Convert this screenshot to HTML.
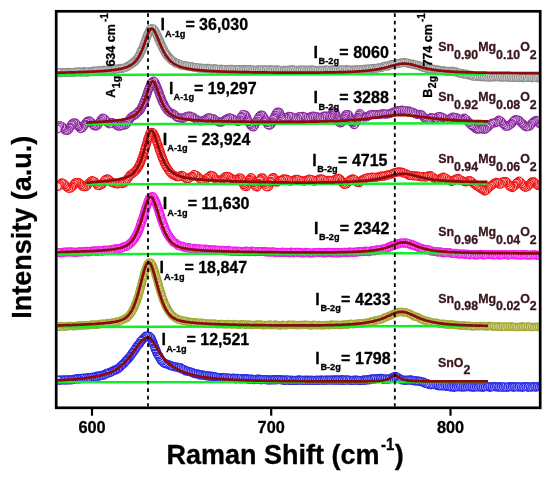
<!DOCTYPE html><html><head><meta charset="utf-8"><style>html,body{margin:0;padding:0;background:#fff;}svg{display:block;} text{stroke:#000;} text.s{fill:#38161b;stroke:#38161b;}</style></head><body><svg width="550" height="479" viewBox="0 0 550 479">
<defs><clipPath id="c"><rect x="57.4" y="12.5" width="481.6" height="394.1"/></clipPath></defs>
<g clip-path="url(#c)">
<g fill="#e6e6e8" stroke="#8e8e8e" stroke-width="1.2"><circle cx="539.6" cy="77.8" r="3.9"/><circle cx="537.8" cy="77.9" r="3.9"/><circle cx="536.0" cy="77.6" r="3.9"/><circle cx="534.2" cy="77.5" r="3.9"/><circle cx="532.4" cy="77.9" r="3.9"/><circle cx="530.6" cy="77.6" r="3.9"/><circle cx="528.8" cy="77.5" r="3.9"/><circle cx="527.0" cy="77.2" r="3.9"/><circle cx="525.2" cy="77.6" r="3.9"/><circle cx="523.4" cy="77.8" r="3.9"/><circle cx="521.6" cy="77.1" r="3.9"/><circle cx="519.8" cy="77.7" r="3.9"/><circle cx="518.0" cy="77.6" r="3.9"/><circle cx="516.2" cy="77.2" r="3.9"/><circle cx="514.4" cy="77.5" r="3.9"/><circle cx="512.6" cy="77.4" r="3.9"/><circle cx="510.8" cy="77.3" r="3.9"/><circle cx="509.0" cy="77.4" r="3.9"/><circle cx="507.2" cy="77.1" r="3.9"/><circle cx="505.4" cy="77.0" r="3.9"/><circle cx="503.6" cy="76.9" r="3.9"/><circle cx="501.8" cy="77.3" r="3.9"/><circle cx="500.0" cy="77.1" r="3.9"/><circle cx="498.2" cy="76.7" r="3.9"/><circle cx="496.4" cy="76.8" r="3.9"/><circle cx="494.6" cy="77.0" r="3.9"/><circle cx="492.8" cy="76.7" r="3.9"/><circle cx="491.0" cy="77.1" r="3.9"/><circle cx="489.2" cy="77.2" r="3.9"/><circle cx="487.4" cy="77.1" r="3.9"/><circle cx="485.6" cy="76.9" r="3.9"/><circle cx="483.8" cy="76.9" r="3.9"/><circle cx="482.0" cy="76.7" r="3.9"/><circle cx="480.2" cy="76.8" r="3.9"/><circle cx="478.4" cy="76.2" r="3.9"/><circle cx="476.6" cy="76.3" r="3.9"/><circle cx="474.8" cy="76.2" r="3.9"/><circle cx="473.0" cy="76.3" r="3.9"/><circle cx="471.2" cy="75.3" r="3.9"/><circle cx="469.4" cy="75.2" r="3.9"/><circle cx="467.6" cy="74.5" r="3.9"/><circle cx="465.8" cy="74.0" r="3.9"/><circle cx="464.0" cy="74.2" r="3.9"/><circle cx="462.2" cy="73.4" r="3.9"/><circle cx="460.4" cy="73.2" r="3.9"/><circle cx="458.6" cy="72.9" r="3.9"/><circle cx="456.8" cy="71.9" r="3.9"/><circle cx="455.0" cy="72.1" r="3.9"/><circle cx="453.2" cy="71.3" r="3.9"/><circle cx="451.4" cy="71.2" r="3.9"/><circle cx="449.6" cy="71.3" r="3.9"/><circle cx="447.8" cy="71.6" r="3.9"/><circle cx="446.0" cy="71.3" r="3.9"/><circle cx="444.2" cy="70.7" r="3.9"/><circle cx="442.4" cy="70.7" r="3.9"/><circle cx="440.6" cy="70.5" r="3.9"/><circle cx="438.8" cy="70.1" r="3.9"/><circle cx="437.0" cy="69.7" r="3.9"/><circle cx="435.2" cy="69.5" r="3.9"/><circle cx="433.4" cy="69.3" r="3.9"/><circle cx="431.6" cy="68.8" r="3.9"/><circle cx="429.8" cy="68.5" r="3.9"/><circle cx="428.0" cy="68.7" r="3.9"/><circle cx="426.2" cy="68.1" r="3.9"/><circle cx="424.4" cy="67.7" r="3.9"/><circle cx="422.6" cy="67.3" r="3.9"/><circle cx="420.8" cy="66.5" r="3.9"/><circle cx="419.0" cy="65.7" r="3.9"/><circle cx="417.2" cy="65.3" r="3.9"/><circle cx="415.4" cy="64.9" r="3.9"/><circle cx="413.6" cy="64.2" r="3.9"/><circle cx="411.8" cy="64.1" r="3.9"/><circle cx="410.0" cy="63.7" r="3.9"/><circle cx="408.2" cy="63.3" r="3.9"/><circle cx="406.4" cy="62.8" r="3.9"/><circle cx="404.6" cy="62.4" r="3.9"/><circle cx="402.8" cy="62.8" r="3.9"/><circle cx="401.0" cy="62.7" r="3.9"/><circle cx="399.2" cy="63.4" r="3.9"/><circle cx="397.4" cy="63.4" r="3.9"/><circle cx="395.6" cy="63.9" r="3.9"/><circle cx="393.8" cy="64.6" r="3.9"/><circle cx="392.0" cy="64.5" r="3.9"/><circle cx="390.2" cy="65.0" r="3.9"/><circle cx="388.4" cy="65.9" r="3.9"/><circle cx="386.6" cy="66.0" r="3.9"/><circle cx="384.8" cy="66.2" r="3.9"/><circle cx="383.0" cy="66.8" r="3.9"/><circle cx="381.2" cy="67.7" r="3.9"/><circle cx="379.4" cy="67.8" r="3.9"/><circle cx="377.6" cy="68.0" r="3.9"/><circle cx="375.8" cy="68.4" r="3.9"/><circle cx="374.0" cy="68.3" r="3.9"/><circle cx="372.2" cy="68.7" r="3.9"/><circle cx="370.4" cy="69.0" r="3.9"/><circle cx="368.6" cy="68.7" r="3.9"/><circle cx="366.8" cy="69.5" r="3.9"/><circle cx="365.0" cy="69.1" r="3.9"/><circle cx="363.2" cy="69.8" r="3.9"/><circle cx="361.4" cy="69.5" r="3.9"/><circle cx="359.6" cy="69.7" r="3.9"/><circle cx="357.8" cy="69.9" r="3.9"/><circle cx="356.0" cy="69.7" r="3.9"/><circle cx="354.2" cy="70.0" r="3.9"/><circle cx="352.4" cy="70.1" r="3.9"/><circle cx="350.6" cy="70.2" r="3.9"/><circle cx="348.8" cy="70.0" r="3.9"/><circle cx="347.0" cy="69.5" r="3.9"/><circle cx="345.2" cy="70.0" r="3.9"/><circle cx="343.4" cy="69.9" r="3.9"/><circle cx="341.6" cy="69.8" r="3.9"/><circle cx="339.8" cy="69.9" r="3.9"/><circle cx="338.0" cy="69.9" r="3.9"/><circle cx="336.2" cy="70.1" r="3.9"/><circle cx="334.4" cy="70.0" r="3.9"/><circle cx="332.6" cy="69.8" r="3.9"/><circle cx="330.8" cy="70.2" r="3.9"/><circle cx="329.0" cy="70.2" r="3.9"/><circle cx="327.2" cy="70.1" r="3.9"/><circle cx="325.4" cy="69.8" r="3.9"/><circle cx="323.6" cy="70.3" r="3.9"/><circle cx="321.8" cy="70.2" r="3.9"/><circle cx="320.0" cy="70.2" r="3.9"/><circle cx="318.2" cy="70.2" r="3.9"/><circle cx="316.4" cy="70.4" r="3.9"/><circle cx="314.6" cy="70.3" r="3.9"/><circle cx="312.8" cy="70.1" r="3.9"/><circle cx="311.0" cy="69.8" r="3.9"/><circle cx="309.2" cy="70.5" r="3.9"/><circle cx="307.4" cy="70.0" r="3.9"/><circle cx="305.6" cy="70.3" r="3.9"/><circle cx="303.8" cy="70.1" r="3.9"/><circle cx="302.0" cy="70.3" r="3.9"/><circle cx="300.2" cy="69.8" r="3.9"/><circle cx="298.4" cy="70.5" r="3.9"/><circle cx="296.6" cy="70.3" r="3.9"/><circle cx="294.8" cy="70.5" r="3.9"/><circle cx="293.0" cy="69.8" r="3.9"/><circle cx="291.2" cy="69.8" r="3.9"/><circle cx="289.4" cy="69.9" r="3.9"/><circle cx="287.6" cy="70.2" r="3.9"/><circle cx="285.8" cy="70.3" r="3.9"/><circle cx="284.0" cy="70.3" r="3.9"/><circle cx="282.2" cy="70.5" r="3.9"/><circle cx="280.4" cy="70.5" r="3.9"/><circle cx="278.6" cy="70.0" r="3.9"/><circle cx="276.8" cy="69.8" r="3.9"/><circle cx="275.0" cy="70.2" r="3.9"/><circle cx="273.2" cy="70.0" r="3.9"/><circle cx="271.4" cy="69.8" r="3.9"/><circle cx="269.6" cy="69.7" r="3.9"/><circle cx="267.8" cy="70.0" r="3.9"/><circle cx="266.0" cy="69.9" r="3.9"/><circle cx="264.2" cy="69.7" r="3.9"/><circle cx="262.4" cy="69.8" r="3.9"/><circle cx="260.6" cy="70.3" r="3.9"/><circle cx="258.8" cy="69.8" r="3.9"/><circle cx="257.0" cy="70.1" r="3.9"/><circle cx="255.2" cy="70.2" r="3.9"/><circle cx="253.4" cy="70.0" r="3.9"/><circle cx="251.6" cy="69.7" r="3.9"/><circle cx="249.8" cy="69.5" r="3.9"/><circle cx="248.0" cy="70.0" r="3.9"/><circle cx="246.2" cy="69.5" r="3.9"/><circle cx="244.4" cy="69.6" r="3.9"/><circle cx="242.6" cy="69.8" r="3.9"/><circle cx="240.8" cy="70.0" r="3.9"/><circle cx="239.0" cy="69.5" r="3.9"/><circle cx="237.2" cy="69.8" r="3.9"/><circle cx="235.4" cy="69.4" r="3.9"/><circle cx="233.6" cy="69.9" r="3.9"/><circle cx="231.8" cy="69.2" r="3.9"/><circle cx="230.0" cy="69.2" r="3.9"/><circle cx="228.2" cy="69.4" r="3.9"/><circle cx="226.4" cy="69.5" r="3.9"/><circle cx="224.6" cy="69.6" r="3.9"/><circle cx="222.8" cy="69.6" r="3.9"/><circle cx="221.0" cy="69.0" r="3.9"/><circle cx="219.2" cy="69.5" r="3.9"/><circle cx="217.4" cy="69.3" r="3.9"/><circle cx="215.6" cy="68.7" r="3.9"/><circle cx="213.8" cy="68.7" r="3.9"/><circle cx="212.0" cy="69.1" r="3.9"/><circle cx="210.2" cy="69.0" r="3.9"/><circle cx="208.4" cy="68.3" r="3.9"/><circle cx="206.6" cy="68.2" r="3.9"/><circle cx="204.8" cy="68.7" r="3.9"/><circle cx="203.0" cy="68.3" r="3.9"/><circle cx="201.2" cy="68.1" r="3.9"/><circle cx="199.4" cy="68.3" r="3.9"/><circle cx="197.6" cy="67.7" r="3.9"/><circle cx="195.8" cy="67.4" r="3.9"/><circle cx="194.0" cy="67.4" r="3.9"/><circle cx="192.2" cy="66.8" r="3.9"/><circle cx="190.4" cy="66.8" r="3.9"/><circle cx="188.6" cy="66.2" r="3.9"/><circle cx="186.8" cy="65.9" r="3.9"/><circle cx="185.0" cy="65.8" r="3.9"/><circle cx="183.2" cy="65.4" r="3.9"/><circle cx="181.4" cy="65.3" r="3.9"/><circle cx="179.6" cy="64.3" r="3.9"/><circle cx="177.9" cy="63.6" r="3.9"/><circle cx="176.2" cy="63.5" r="3.9"/><circle cx="174.7" cy="61.9" r="3.9"/><circle cx="173.1" cy="61.4" r="3.9"/><circle cx="171.7" cy="60.4" r="3.9"/><circle cx="170.4" cy="58.8" r="3.9"/><circle cx="169.1" cy="57.4" r="3.9"/><circle cx="167.9" cy="56.5" r="3.9"/><circle cx="166.8" cy="54.6" r="3.9"/><circle cx="165.8" cy="53.5" r="3.9"/><circle cx="164.8" cy="52.0" r="3.9"/><circle cx="163.9" cy="49.9" r="3.9"/><circle cx="163.0" cy="48.2" r="3.9"/><circle cx="162.2" cy="46.7" r="3.9"/><circle cx="161.4" cy="44.8" r="3.9"/><circle cx="160.6" cy="43.5" r="3.9"/><circle cx="159.9" cy="41.5" r="3.9"/><circle cx="159.1" cy="40.2" r="3.9"/><circle cx="158.4" cy="38.2" r="3.9"/><circle cx="157.7" cy="36.7" r="3.9"/><circle cx="157.0" cy="35.2" r="3.9"/><circle cx="156.2" cy="33.3" r="3.9"/><circle cx="155.4" cy="32.3" r="3.9"/><circle cx="154.5" cy="30.3" r="3.9"/><circle cx="153.5" cy="29.0" r="3.9"/><circle cx="151.9" cy="28.4" r="3.9"/><circle cx="150.3" cy="29.2" r="3.9"/><circle cx="149.3" cy="31.3" r="3.9"/><circle cx="148.5" cy="33.1" r="3.9"/><circle cx="147.8" cy="34.3" r="3.9"/><circle cx="147.2" cy="35.8" r="3.9"/><circle cx="146.5" cy="37.7" r="3.9"/><circle cx="145.9" cy="39.8" r="3.9"/><circle cx="145.3" cy="41.4" r="3.9"/><circle cx="144.7" cy="42.6" r="3.9"/><circle cx="144.1" cy="44.5" r="3.9"/><circle cx="143.4" cy="46.7" r="3.9"/><circle cx="142.8" cy="47.9" r="3.9"/><circle cx="142.1" cy="49.8" r="3.9"/><circle cx="141.4" cy="50.8" r="3.9"/><circle cx="140.7" cy="52.2" r="3.9"/><circle cx="139.9" cy="54.4" r="3.9"/><circle cx="139.0" cy="56.0" r="3.9"/><circle cx="138.1" cy="57.1" r="3.9"/><circle cx="137.1" cy="58.9" r="3.9"/><circle cx="136.1" cy="59.9" r="3.9"/><circle cx="134.9" cy="61.5" r="3.9"/><circle cx="133.6" cy="62.2" r="3.9"/><circle cx="132.2" cy="63.5" r="3.9"/><circle cx="130.8" cy="64.4" r="3.9"/><circle cx="129.2" cy="65.4" r="3.9"/><circle cx="127.6" cy="66.5" r="3.9"/><circle cx="125.9" cy="67.2" r="3.9"/><circle cx="124.1" cy="67.9" r="3.9"/><circle cx="122.3" cy="68.4" r="3.9"/><circle cx="120.5" cy="68.2" r="3.9"/><circle cx="118.7" cy="68.7" r="3.9"/><circle cx="116.9" cy="69.1" r="3.9"/><circle cx="115.1" cy="69.2" r="3.9"/><circle cx="113.3" cy="69.5" r="3.9"/><circle cx="111.5" cy="69.6" r="3.9"/><circle cx="109.7" cy="70.1" r="3.9"/><circle cx="107.9" cy="70.0" r="3.9"/><circle cx="106.1" cy="70.2" r="3.9"/><circle cx="104.3" cy="70.1" r="3.9"/><circle cx="102.5" cy="70.4" r="3.9"/><circle cx="100.7" cy="70.6" r="3.9"/><circle cx="98.9" cy="70.6" r="3.9"/><circle cx="97.1" cy="71.2" r="3.9"/><circle cx="95.3" cy="70.9" r="3.9"/><circle cx="93.5" cy="71.1" r="3.9"/><circle cx="91.7" cy="71.6" r="3.9"/><circle cx="89.9" cy="71.8" r="3.9"/><circle cx="88.1" cy="72.1" r="3.9"/><circle cx="86.3" cy="72.2" r="3.9"/><circle cx="84.5" cy="71.5" r="3.9"/><circle cx="82.7" cy="72.1" r="3.9"/><circle cx="80.9" cy="72.3" r="3.9"/><circle cx="79.1" cy="71.8" r="3.9"/><circle cx="77.3" cy="72.0" r="3.9"/><circle cx="75.5" cy="71.9" r="3.9"/><circle cx="73.7" cy="72.5" r="3.9"/><circle cx="71.9" cy="72.4" r="3.9"/><circle cx="70.1" cy="72.4" r="3.9"/><circle cx="68.3" cy="72.2" r="3.9"/><circle cx="66.5" cy="72.5" r="3.9"/><circle cx="64.7" cy="72.5" r="3.9"/><circle cx="62.9" cy="72.5" r="3.9"/><circle cx="61.1" cy="72.9" r="3.9"/><circle cx="59.3" cy="72.7" r="3.9"/><circle cx="57.5" cy="72.6" r="3.9"/></g>
<g fill="#efd8f2" stroke="#8a2a9e" stroke-width="1.25"><circle cx="539.0" cy="123.4" r="3.9"/><circle cx="537.7" cy="122.1" r="3.9"/><circle cx="536.4" cy="120.3" r="3.9"/><circle cx="534.6" cy="121.1" r="3.9"/><circle cx="533.2" cy="122.1" r="3.9"/><circle cx="532.0" cy="123.2" r="3.9"/><circle cx="530.7" cy="124.8" r="3.9"/><circle cx="529.4" cy="126.3" r="3.9"/><circle cx="527.8" cy="126.6" r="3.9"/><circle cx="526.0" cy="126.9" r="3.9"/><circle cx="524.4" cy="125.7" r="3.9"/><circle cx="523.1" cy="124.3" r="3.9"/><circle cx="521.9" cy="123.2" r="3.9"/><circle cx="520.7" cy="122.1" r="3.9"/><circle cx="519.4" cy="120.6" r="3.9"/><circle cx="517.8" cy="120.0" r="3.9"/><circle cx="516.0" cy="119.4" r="3.9"/><circle cx="514.4" cy="120.3" r="3.9"/><circle cx="513.0" cy="121.5" r="3.9"/><circle cx="511.8" cy="123.5" r="3.9"/><circle cx="510.5" cy="124.2" r="3.9"/><circle cx="509.2" cy="125.4" r="3.9"/><circle cx="507.5" cy="126.3" r="3.9"/><circle cx="505.7" cy="126.2" r="3.9"/><circle cx="504.2" cy="124.9" r="3.9"/><circle cx="502.9" cy="123.6" r="3.9"/><circle cx="501.7" cy="122.1" r="3.9"/><circle cx="500.5" cy="121.0" r="3.9"/><circle cx="498.8" cy="120.1" r="3.9"/><circle cx="497.3" cy="121.3" r="3.9"/><circle cx="496.0" cy="122.8" r="3.9"/><circle cx="494.2" cy="123.0" r="3.9"/><circle cx="492.4" cy="123.0" r="3.9"/><circle cx="490.8" cy="124.1" r="3.9"/><circle cx="489.5" cy="125.6" r="3.9"/><circle cx="488.1" cy="127.1" r="3.9"/><circle cx="486.7" cy="127.6" r="3.9"/><circle cx="485.3" cy="129.3" r="3.9"/><circle cx="483.5" cy="129.2" r="3.9"/><circle cx="481.7" cy="128.8" r="3.9"/><circle cx="479.9" cy="129.0" r="3.9"/><circle cx="478.1" cy="129.2" r="3.9"/><circle cx="476.3" cy="129.0" r="3.9"/><circle cx="474.8" cy="127.7" r="3.9"/><circle cx="473.4" cy="126.6" r="3.9"/><circle cx="472.0" cy="125.8" r="3.9"/><circle cx="470.7" cy="124.6" r="3.9"/><circle cx="469.4" cy="122.9" r="3.9"/><circle cx="468.2" cy="122.1" r="3.9"/><circle cx="467.0" cy="120.3" r="3.9"/><circle cx="465.8" cy="119.2" r="3.9"/><circle cx="464.4" cy="117.9" r="3.9"/><circle cx="462.8" cy="119.3" r="3.9"/><circle cx="461.1" cy="119.4" r="3.9"/><circle cx="459.3" cy="119.3" r="3.9"/><circle cx="457.7" cy="118.2" r="3.9"/><circle cx="456.2" cy="117.5" r="3.9"/><circle cx="454.5" cy="117.2" r="3.9"/><circle cx="452.7" cy="116.9" r="3.9"/><circle cx="451.1" cy="118.0" r="3.9"/><circle cx="449.6" cy="118.7" r="3.9"/><circle cx="448.0" cy="119.6" r="3.9"/><circle cx="446.2" cy="119.3" r="3.9"/><circle cx="444.5" cy="118.9" r="3.9"/><circle cx="443.1" cy="117.8" r="3.9"/><circle cx="441.5" cy="117.0" r="3.9"/><circle cx="439.7" cy="116.5" r="3.9"/><circle cx="437.9" cy="116.7" r="3.9"/><circle cx="436.4" cy="118.1" r="3.9"/><circle cx="434.6" cy="118.7" r="3.9"/><circle cx="432.8" cy="117.7" r="3.9"/><circle cx="431.0" cy="117.6" r="3.9"/><circle cx="429.4" cy="118.2" r="3.9"/><circle cx="428.1" cy="119.8" r="3.9"/><circle cx="426.3" cy="119.4" r="3.9"/><circle cx="424.8" cy="118.2" r="3.9"/><circle cx="423.6" cy="117.1" r="3.9"/><circle cx="422.4" cy="115.6" r="3.9"/><circle cx="421.1" cy="114.4" r="3.9"/><circle cx="419.4" cy="114.2" r="3.9"/><circle cx="417.6" cy="114.5" r="3.9"/><circle cx="415.8" cy="114.0" r="3.9"/><circle cx="414.3" cy="113.0" r="3.9"/><circle cx="412.8" cy="112.3" r="3.9"/><circle cx="411.1" cy="111.9" r="3.9"/><circle cx="409.3" cy="110.9" r="3.9"/><circle cx="407.5" cy="111.1" r="3.9"/><circle cx="405.7" cy="110.8" r="3.9"/><circle cx="403.9" cy="110.5" r="3.9"/><circle cx="402.1" cy="110.1" r="3.9"/><circle cx="400.3" cy="110.4" r="3.9"/><circle cx="398.5" cy="110.6" r="3.9"/><circle cx="396.8" cy="110.9" r="3.9"/><circle cx="395.1" cy="111.4" r="3.9"/><circle cx="393.4" cy="112.0" r="3.9"/><circle cx="391.7" cy="112.9" r="3.9"/><circle cx="390.1" cy="113.6" r="3.9"/><circle cx="388.3" cy="113.9" r="3.9"/><circle cx="386.5" cy="114.1" r="3.9"/><circle cx="384.7" cy="114.1" r="3.9"/><circle cx="382.9" cy="113.6" r="3.9"/><circle cx="381.1" cy="114.2" r="3.9"/><circle cx="379.3" cy="114.2" r="3.9"/><circle cx="377.5" cy="114.4" r="3.9"/><circle cx="375.7" cy="114.7" r="3.9"/><circle cx="373.9" cy="114.4" r="3.9"/><circle cx="372.1" cy="114.4" r="3.9"/><circle cx="370.4" cy="114.8" r="3.9"/><circle cx="368.7" cy="115.8" r="3.9"/><circle cx="367.0" cy="116.7" r="3.9"/><circle cx="365.3" cy="117.0" r="3.9"/><circle cx="363.5" cy="117.1" r="3.9"/><circle cx="362.2" cy="116.3" r="3.9"/><circle cx="361.2" cy="114.9" r="3.9"/><circle cx="359.8" cy="113.4" r="3.9"/><circle cx="358.8" cy="115.1" r="3.9"/><circle cx="358.1" cy="116.9" r="3.9"/><circle cx="357.5" cy="118.5" r="3.9"/><circle cx="356.8" cy="120.1" r="3.9"/><circle cx="356.1" cy="121.7" r="3.9"/><circle cx="355.3" cy="123.4" r="3.9"/><circle cx="354.2" cy="124.7" r="3.9"/><circle cx="352.6" cy="123.0" r="3.9"/><circle cx="351.7" cy="121.7" r="3.9"/><circle cx="350.9" cy="120.5" r="3.9"/><circle cx="350.2" cy="118.8" r="3.9"/><circle cx="349.5" cy="116.9" r="3.9"/><circle cx="348.8" cy="115.2" r="3.9"/><circle cx="347.8" cy="114.4" r="3.9"/><circle cx="346.0" cy="114.4" r="3.9"/><circle cx="345.0" cy="116.0" r="3.9"/><circle cx="344.1" cy="117.7" r="3.9"/><circle cx="343.3" cy="119.1" r="3.9"/><circle cx="342.5" cy="120.8" r="3.9"/><circle cx="341.7" cy="122.3" r="3.9"/><circle cx="340.4" cy="123.0" r="3.9"/><circle cx="338.9" cy="122.1" r="3.9"/><circle cx="338.0" cy="120.2" r="3.9"/><circle cx="337.4" cy="118.8" r="3.9"/><circle cx="336.7" cy="117.6" r="3.9"/><circle cx="336.1" cy="115.1" r="3.9"/><circle cx="335.5" cy="113.6" r="3.9"/><circle cx="334.9" cy="112.1" r="3.9"/><circle cx="333.1" cy="111.8" r="3.9"/><circle cx="332.1" cy="113.6" r="3.9"/><circle cx="331.2" cy="115.3" r="3.9"/><circle cx="330.1" cy="116.5" r="3.9"/><circle cx="328.3" cy="116.3" r="3.9"/><circle cx="326.6" cy="115.9" r="3.9"/><circle cx="324.8" cy="116.0" r="3.9"/><circle cx="323.2" cy="116.3" r="3.9"/><circle cx="321.6" cy="117.4" r="3.9"/><circle cx="319.8" cy="117.7" r="3.9"/><circle cx="318.0" cy="117.1" r="3.9"/><circle cx="316.3" cy="116.7" r="3.9"/><circle cx="314.6" cy="116.2" r="3.9"/><circle cx="312.8" cy="116.0" r="3.9"/><circle cx="311.2" cy="116.5" r="3.9"/><circle cx="309.6" cy="117.2" r="3.9"/><circle cx="307.8" cy="117.6" r="3.9"/><circle cx="306.0" cy="117.8" r="3.9"/><circle cx="304.4" cy="117.0" r="3.9"/><circle cx="302.7" cy="116.3" r="3.9"/><circle cx="300.9" cy="116.6" r="3.9"/><circle cx="299.2" cy="116.6" r="3.9"/><circle cx="297.6" cy="118.0" r="3.9"/><circle cx="295.8" cy="118.2" r="3.9"/><circle cx="294.0" cy="117.8" r="3.9"/><circle cx="292.4" cy="117.2" r="3.9"/><circle cx="290.7" cy="116.4" r="3.9"/><circle cx="288.9" cy="116.2" r="3.9"/><circle cx="287.2" cy="117.6" r="3.9"/><circle cx="285.5" cy="117.8" r="3.9"/><circle cx="283.7" cy="117.3" r="3.9"/><circle cx="281.9" cy="117.1" r="3.9"/><circle cx="280.8" cy="115.4" r="3.9"/><circle cx="280.0" cy="113.8" r="3.9"/><circle cx="279.2" cy="112.2" r="3.9"/><circle cx="277.6" cy="112.0" r="3.9"/><circle cx="276.3" cy="113.1" r="3.9"/><circle cx="275.4" cy="115.0" r="3.9"/><circle cx="274.6" cy="116.7" r="3.9"/><circle cx="273.9" cy="118.0" r="3.9"/><circle cx="273.2" cy="119.5" r="3.9"/><circle cx="272.5" cy="121.8" r="3.9"/><circle cx="271.8" cy="123.1" r="3.9"/><circle cx="270.9" cy="124.4" r="3.9"/><circle cx="269.6" cy="125.3" r="3.9"/><circle cx="267.9" cy="124.9" r="3.9"/><circle cx="266.9" cy="122.8" r="3.9"/><circle cx="266.0" cy="121.3" r="3.9"/><circle cx="265.1" cy="119.6" r="3.9"/><circle cx="264.3" cy="118.2" r="3.9"/><circle cx="263.5" cy="117.0" r="3.9"/><circle cx="262.5" cy="115.3" r="3.9"/><circle cx="260.9" cy="114.9" r="3.9"/><circle cx="259.5" cy="116.3" r="3.9"/><circle cx="258.5" cy="117.8" r="3.9"/><circle cx="257.7" cy="118.9" r="3.9"/><circle cx="256.9" cy="121.0" r="3.9"/><circle cx="256.1" cy="122.4" r="3.9"/><circle cx="255.4" cy="123.7" r="3.9"/><circle cx="254.5" cy="125.8" r="3.9"/><circle cx="253.4" cy="127.0" r="3.9"/><circle cx="251.6" cy="126.4" r="3.9"/><circle cx="250.4" cy="124.9" r="3.9"/><circle cx="249.6" cy="123.6" r="3.9"/><circle cx="248.8" cy="121.7" r="3.9"/><circle cx="248.0" cy="120.5" r="3.9"/><circle cx="247.3" cy="119.0" r="3.9"/><circle cx="246.6" cy="117.1" r="3.9"/><circle cx="245.7" cy="115.3" r="3.9"/><circle cx="244.5" cy="114.7" r="3.9"/><circle cx="242.7" cy="114.6" r="3.9"/><circle cx="241.6" cy="116.4" r="3.9"/><circle cx="240.7" cy="117.6" r="3.9"/><circle cx="240.0" cy="119.7" r="3.9"/><circle cx="239.2" cy="121.1" r="3.9"/><circle cx="237.6" cy="121.5" r="3.9"/><circle cx="236.3" cy="120.7" r="3.9"/><circle cx="234.6" cy="120.4" r="3.9"/><circle cx="233.0" cy="119.0" r="3.9"/><circle cx="231.4" cy="118.5" r="3.9"/><circle cx="229.6" cy="117.8" r="3.9"/><circle cx="227.8" cy="118.4" r="3.9"/><circle cx="226.2" cy="119.2" r="3.9"/><circle cx="224.7" cy="120.1" r="3.9"/><circle cx="223.1" cy="121.2" r="3.9"/><circle cx="221.5" cy="122.1" r="3.9"/><circle cx="219.7" cy="122.3" r="3.9"/><circle cx="217.9" cy="121.5" r="3.9"/><circle cx="216.2" cy="120.8" r="3.9"/><circle cx="214.7" cy="119.6" r="3.9"/><circle cx="213.2" cy="118.5" r="3.9"/><circle cx="211.6" cy="118.4" r="3.9"/><circle cx="209.8" cy="117.7" r="3.9"/><circle cx="208.0" cy="117.7" r="3.9"/><circle cx="206.3" cy="119.0" r="3.9"/><circle cx="204.7" cy="120.0" r="3.9"/><circle cx="203.2" cy="120.7" r="3.9"/><circle cx="201.5" cy="120.9" r="3.9"/><circle cx="199.7" cy="120.9" r="3.9"/><circle cx="197.9" cy="120.5" r="3.9"/><circle cx="196.3" cy="119.3" r="3.9"/><circle cx="194.8" cy="118.4" r="3.9"/><circle cx="193.3" cy="117.3" r="3.9"/><circle cx="191.8" cy="117.0" r="3.9"/><circle cx="190.0" cy="116.0" r="3.9"/><circle cx="188.2" cy="116.0" r="3.9"/><circle cx="186.4" cy="116.5" r="3.9"/><circle cx="184.7" cy="117.4" r="3.9"/><circle cx="183.1" cy="118.6" r="3.9"/><circle cx="181.3" cy="118.1" r="3.9"/><circle cx="179.5" cy="118.0" r="3.9"/><circle cx="177.8" cy="117.5" r="3.9"/><circle cx="176.3" cy="116.7" r="3.9"/><circle cx="174.9" cy="115.1" r="3.9"/><circle cx="173.5" cy="114.1" r="3.9"/><circle cx="171.9" cy="113.6" r="3.9"/><circle cx="170.2" cy="112.8" r="3.9"/><circle cx="168.8" cy="111.2" r="3.9"/><circle cx="167.6" cy="110.6" r="3.9"/><circle cx="166.5" cy="108.9" r="3.9"/><circle cx="165.5" cy="107.5" r="3.9"/><circle cx="164.5" cy="105.8" r="3.9"/><circle cx="163.7" cy="103.8" r="3.9"/><circle cx="162.8" cy="102.4" r="3.9"/><circle cx="162.1" cy="100.7" r="3.9"/><circle cx="161.4" cy="98.8" r="3.9"/><circle cx="160.7" cy="97.3" r="3.9"/><circle cx="160.0" cy="95.7" r="3.9"/><circle cx="159.4" cy="93.7" r="3.9"/><circle cx="158.8" cy="91.9" r="3.9"/><circle cx="158.2" cy="90.2" r="3.9"/><circle cx="157.6" cy="88.8" r="3.9"/><circle cx="156.9" cy="86.8" r="3.9"/><circle cx="156.3" cy="85.6" r="3.9"/><circle cx="155.6" cy="84.0" r="3.9"/><circle cx="154.8" cy="82.3" r="3.9"/><circle cx="153.6" cy="81.0" r="3.9"/><circle cx="151.9" cy="82.2" r="3.9"/><circle cx="150.9" cy="83.4" r="3.9"/><circle cx="150.2" cy="85.4" r="3.9"/><circle cx="149.5" cy="87.2" r="3.9"/><circle cx="148.9" cy="88.7" r="3.9"/><circle cx="148.3" cy="90.1" r="3.9"/><circle cx="147.7" cy="92.0" r="3.9"/><circle cx="147.1" cy="93.8" r="3.9"/><circle cx="146.6" cy="95.5" r="3.9"/><circle cx="146.0" cy="97.1" r="3.9"/><circle cx="145.4" cy="98.9" r="3.9"/><circle cx="144.7" cy="100.2" r="3.9"/><circle cx="144.1" cy="102.4" r="3.9"/><circle cx="143.4" cy="103.3" r="3.9"/><circle cx="142.7" cy="105.1" r="3.9"/><circle cx="141.9" cy="106.7" r="3.9"/><circle cx="141.0" cy="108.6" r="3.9"/><circle cx="140.1" cy="110.0" r="3.9"/><circle cx="139.0" cy="111.0" r="3.9"/><circle cx="137.9" cy="112.3" r="3.9"/><circle cx="136.6" cy="113.5" r="3.9"/><circle cx="135.2" cy="115.1" r="3.9"/><circle cx="133.7" cy="115.4" r="3.9"/><circle cx="132.1" cy="116.6" r="3.9"/><circle cx="130.7" cy="117.8" r="3.9"/><circle cx="129.7" cy="119.1" r="3.9"/><circle cx="128.7" cy="120.7" r="3.9"/><circle cx="127.7" cy="122.2" r="3.9"/><circle cx="126.7" cy="123.5" r="3.9"/><circle cx="125.6" cy="124.9" r="3.9"/><circle cx="123.8" cy="125.1" r="3.9"/><circle cx="122.0" cy="125.4" r="3.9"/><circle cx="120.2" cy="126.2" r="3.9"/><circle cx="118.4" cy="126.3" r="3.9"/><circle cx="116.7" cy="125.3" r="3.9"/><circle cx="115.3" cy="124.3" r="3.9"/><circle cx="113.8" cy="123.2" r="3.9"/><circle cx="112.4" cy="122.5" r="3.9"/><circle cx="110.7" cy="122.6" r="3.9"/><circle cx="109.2" cy="123.9" r="3.9"/><circle cx="107.6" cy="122.6" r="3.9"/><circle cx="106.6" cy="121.2" r="3.9"/><circle cx="105.6" cy="120.1" r="3.9"/><circle cx="104.6" cy="118.9" r="3.9"/><circle cx="102.8" cy="117.9" r="3.9"/><circle cx="101.3" cy="119.4" r="3.9"/><circle cx="100.2" cy="121.1" r="3.9"/><circle cx="99.3" cy="122.6" r="3.9"/><circle cx="98.3" cy="123.8" r="3.9"/><circle cx="97.3" cy="125.6" r="3.9"/><circle cx="95.9" cy="126.1" r="3.9"/><circle cx="94.1" cy="125.8" r="3.9"/><circle cx="92.9" cy="124.5" r="3.9"/><circle cx="91.8" cy="122.9" r="3.9"/><circle cx="90.7" cy="121.9" r="3.9"/><circle cx="89.3" cy="120.7" r="3.9"/><circle cx="87.5" cy="121.2" r="3.9"/><circle cx="86.3" cy="122.3" r="3.9"/><circle cx="85.3" cy="124.0" r="3.9"/><circle cx="84.3" cy="125.0" r="3.9"/><circle cx="83.4" cy="126.6" r="3.9"/><circle cx="82.2" cy="128.0" r="3.9"/><circle cx="80.4" cy="128.6" r="3.9"/><circle cx="78.9" cy="126.7" r="3.9"/><circle cx="77.8" cy="125.8" r="3.9"/><circle cx="76.8" cy="124.5" r="3.9"/><circle cx="75.6" cy="123.1" r="3.9"/><circle cx="73.8" cy="122.8" r="3.9"/><circle cx="72.3" cy="123.7" r="3.9"/><circle cx="71.3" cy="124.9" r="3.9"/><circle cx="70.3" cy="127.0" r="3.9"/><circle cx="69.4" cy="128.0" r="3.9"/><circle cx="68.4" cy="129.9" r="3.9"/><circle cx="67.0" cy="130.5" r="3.9"/><circle cx="65.2" cy="130.3" r="3.9"/><circle cx="64.0" cy="128.6" r="3.9"/><circle cx="62.8" cy="127.2" r="3.9"/><circle cx="61.7" cy="126.5" r="3.9"/><circle cx="59.9" cy="125.5" r="3.9"/><circle cx="58.7" cy="127.0" r="3.9"/><circle cx="57.5" cy="128.9" r="3.9"/></g>
<g fill="#ffdada" stroke="#ee1616" stroke-width="1.3"><circle cx="539.6" cy="184.8" r="3.9"/><circle cx="538.0" cy="185.6" r="3.9"/><circle cx="536.4" cy="184.4" r="3.9"/><circle cx="535.3" cy="183.2" r="3.9"/><circle cx="534.0" cy="181.9" r="3.9"/><circle cx="532.2" cy="181.7" r="3.9"/><circle cx="530.8" cy="182.9" r="3.9"/><circle cx="529.6" cy="184.4" r="3.9"/><circle cx="528.5" cy="185.8" r="3.9"/><circle cx="527.3" cy="186.8" r="3.9"/><circle cx="525.5" cy="187.4" r="3.9"/><circle cx="524.0" cy="186.5" r="3.9"/><circle cx="522.8" cy="185.2" r="3.9"/><circle cx="521.8" cy="183.7" r="3.9"/><circle cx="520.6" cy="182.2" r="3.9"/><circle cx="519.0" cy="181.1" r="3.9"/><circle cx="517.3" cy="182.4" r="3.9"/><circle cx="516.1" cy="183.4" r="3.9"/><circle cx="515.0" cy="185.5" r="3.9"/><circle cx="513.9" cy="186.3" r="3.9"/><circle cx="512.5" cy="187.6" r="3.9"/><circle cx="510.7" cy="186.8" r="3.9"/><circle cx="509.4" cy="186.0" r="3.9"/><circle cx="508.3" cy="184.4" r="3.9"/><circle cx="507.2" cy="182.7" r="3.9"/><circle cx="505.8" cy="181.5" r="3.9"/><circle cx="504.0" cy="181.6" r="3.9"/><circle cx="502.5" cy="182.0" r="3.9"/><circle cx="501.2" cy="183.9" r="3.9"/><circle cx="499.5" cy="184.3" r="3.9"/><circle cx="498.0" cy="182.8" r="3.9"/><circle cx="496.4" cy="182.4" r="3.9"/><circle cx="494.8" cy="183.0" r="3.9"/><circle cx="493.3" cy="184.0" r="3.9"/><circle cx="491.8" cy="185.3" r="3.9"/><circle cx="490.4" cy="186.1" r="3.9"/><circle cx="489.0" cy="187.5" r="3.9"/><circle cx="487.6" cy="188.8" r="3.9"/><circle cx="486.3" cy="190.2" r="3.9"/><circle cx="484.8" cy="191.1" r="3.9"/><circle cx="483.2" cy="189.8" r="3.9"/><circle cx="481.6" cy="189.1" r="3.9"/><circle cx="480.1" cy="188.1" r="3.9"/><circle cx="478.5" cy="186.8" r="3.9"/><circle cx="477.0" cy="186.2" r="3.9"/><circle cx="475.6" cy="184.9" r="3.9"/><circle cx="474.2" cy="184.0" r="3.9"/><circle cx="472.7" cy="182.7" r="3.9"/><circle cx="471.3" cy="181.6" r="3.9"/><circle cx="469.9" cy="180.6" r="3.9"/><circle cx="468.1" cy="180.7" r="3.9"/><circle cx="466.5" cy="181.9" r="3.9"/><circle cx="464.7" cy="181.7" r="3.9"/><circle cx="463.0" cy="181.0" r="3.9"/><circle cx="461.5" cy="180.5" r="3.9"/><circle cx="460.0" cy="179.7" r="3.9"/><circle cx="458.3" cy="178.4" r="3.9"/><circle cx="456.5" cy="178.7" r="3.9"/><circle cx="454.9" cy="179.6" r="3.9"/><circle cx="453.3" cy="180.3" r="3.9"/><circle cx="451.6" cy="181.5" r="3.9"/><circle cx="449.8" cy="180.7" r="3.9"/><circle cx="448.3" cy="180.1" r="3.9"/><circle cx="446.8" cy="179.0" r="3.9"/><circle cx="445.3" cy="178.0" r="3.9"/><circle cx="443.5" cy="177.1" r="3.9"/><circle cx="441.7" cy="177.7" r="3.9"/><circle cx="440.1" cy="178.7" r="3.9"/><circle cx="438.5" cy="179.4" r="3.9"/><circle cx="436.7" cy="179.5" r="3.9"/><circle cx="435.0" cy="178.9" r="3.9"/><circle cx="433.6" cy="177.7" r="3.9"/><circle cx="432.2" cy="177.0" r="3.9"/><circle cx="430.6" cy="175.6" r="3.9"/><circle cx="428.8" cy="175.8" r="3.9"/><circle cx="427.3" cy="176.4" r="3.9"/><circle cx="425.5" cy="177.2" r="3.9"/><circle cx="423.7" cy="176.5" r="3.9"/><circle cx="421.9" cy="177.0" r="3.9"/><circle cx="420.1" cy="176.8" r="3.9"/><circle cx="418.3" cy="176.1" r="3.9"/><circle cx="416.5" cy="176.0" r="3.9"/><circle cx="414.7" cy="175.9" r="3.9"/><circle cx="412.9" cy="175.9" r="3.9"/><circle cx="411.1" cy="175.5" r="3.9"/><circle cx="409.3" cy="175.5" r="3.9"/><circle cx="407.6" cy="174.5" r="3.9"/><circle cx="406.0" cy="173.8" r="3.9"/><circle cx="404.3" cy="173.3" r="3.9"/><circle cx="402.6" cy="172.4" r="3.9"/><circle cx="400.8" cy="172.1" r="3.9"/><circle cx="399.0" cy="171.9" r="3.9"/><circle cx="397.2" cy="172.0" r="3.9"/><circle cx="395.4" cy="172.5" r="3.9"/><circle cx="393.6" cy="173.1" r="3.9"/><circle cx="391.8" cy="174.1" r="3.9"/><circle cx="390.0" cy="174.6" r="3.9"/><circle cx="388.2" cy="174.9" r="3.9"/><circle cx="386.4" cy="175.2" r="3.9"/><circle cx="384.6" cy="176.1" r="3.9"/><circle cx="382.8" cy="176.1" r="3.9"/><circle cx="381.0" cy="176.1" r="3.9"/><circle cx="379.2" cy="176.8" r="3.9"/><circle cx="377.4" cy="177.1" r="3.9"/><circle cx="375.6" cy="177.3" r="3.9"/><circle cx="373.8" cy="177.4" r="3.9"/><circle cx="372.0" cy="177.1" r="3.9"/><circle cx="370.2" cy="177.6" r="3.9"/><circle cx="368.4" cy="177.6" r="3.9"/><circle cx="366.6" cy="178.1" r="3.9"/><circle cx="364.8" cy="178.6" r="3.9"/><circle cx="363.0" cy="179.5" r="3.9"/><circle cx="361.5" cy="180.4" r="3.9"/><circle cx="360.4" cy="181.6" r="3.9"/><circle cx="359.0" cy="182.8" r="3.9"/><circle cx="357.2" cy="182.3" r="3.9"/><circle cx="355.8" cy="180.9" r="3.9"/><circle cx="354.5" cy="179.8" r="3.9"/><circle cx="353.1" cy="178.8" r="3.9"/><circle cx="351.3" cy="179.3" r="3.9"/><circle cx="349.8" cy="180.3" r="3.9"/><circle cx="348.6" cy="181.5" r="3.9"/><circle cx="347.5" cy="182.7" r="3.9"/><circle cx="346.2" cy="184.0" r="3.9"/><circle cx="344.4" cy="184.5" r="3.9"/><circle cx="342.9" cy="183.4" r="3.9"/><circle cx="341.8" cy="181.9" r="3.9"/><circle cx="340.7" cy="179.8" r="3.9"/><circle cx="339.5" cy="178.9" r="3.9"/><circle cx="338.0" cy="178.3" r="3.9"/><circle cx="336.2" cy="178.7" r="3.9"/><circle cx="334.7" cy="179.6" r="3.9"/><circle cx="333.5" cy="180.6" r="3.9"/><circle cx="331.7" cy="180.6" r="3.9"/><circle cx="330.1" cy="180.2" r="3.9"/><circle cx="328.3" cy="180.2" r="3.9"/><circle cx="326.5" cy="180.6" r="3.9"/><circle cx="324.7" cy="180.4" r="3.9"/><circle cx="323.1" cy="179.5" r="3.9"/><circle cx="321.3" cy="178.8" r="3.9"/><circle cx="319.5" cy="179.0" r="3.9"/><circle cx="317.8" cy="179.9" r="3.9"/><circle cx="316.2" cy="180.6" r="3.9"/><circle cx="314.4" cy="181.3" r="3.9"/><circle cx="312.7" cy="180.1" r="3.9"/><circle cx="311.1" cy="179.6" r="3.9"/><circle cx="309.3" cy="179.1" r="3.9"/><circle cx="307.5" cy="179.7" r="3.9"/><circle cx="305.9" cy="180.6" r="3.9"/><circle cx="304.2" cy="181.1" r="3.9"/><circle cx="302.4" cy="180.9" r="3.9"/><circle cx="300.7" cy="180.6" r="3.9"/><circle cx="299.1" cy="180.0" r="3.9"/><circle cx="297.3" cy="179.3" r="3.9"/><circle cx="295.5" cy="179.2" r="3.9"/><circle cx="293.9" cy="180.4" r="3.9"/><circle cx="292.2" cy="180.8" r="3.9"/><circle cx="290.4" cy="181.3" r="3.9"/><circle cx="288.7" cy="180.2" r="3.9"/><circle cx="287.1" cy="179.3" r="3.9"/><circle cx="285.3" cy="179.1" r="3.9"/><circle cx="283.5" cy="178.9" r="3.9"/><circle cx="281.9" cy="180.3" r="3.9"/><circle cx="280.1" cy="180.3" r="3.9"/><circle cx="278.3" cy="181.1" r="3.9"/><circle cx="277.0" cy="182.2" r="3.9"/><circle cx="275.3" cy="181.6" r="3.9"/><circle cx="274.6" cy="179.5" r="3.9"/><circle cx="273.9" cy="177.6" r="3.9"/><circle cx="272.5" cy="177.8" r="3.9"/><circle cx="271.5" cy="179.0" r="3.9"/><circle cx="270.8" cy="181.2" r="3.9"/><circle cx="270.2" cy="182.6" r="3.9"/><circle cx="269.6" cy="184.6" r="3.9"/><circle cx="268.9" cy="185.5" r="3.9"/><circle cx="268.2" cy="186.9" r="3.9"/><circle cx="266.4" cy="186.8" r="3.9"/><circle cx="265.6" cy="184.4" r="3.9"/><circle cx="265.0" cy="182.6" r="3.9"/><circle cx="264.4" cy="181.1" r="3.9"/><circle cx="263.7" cy="179.9" r="3.9"/><circle cx="263.1" cy="178.1" r="3.9"/><circle cx="261.3" cy="177.8" r="3.9"/><circle cx="260.4" cy="179.4" r="3.9"/><circle cx="259.7" cy="180.8" r="3.9"/><circle cx="259.1" cy="183.2" r="3.9"/><circle cx="258.5" cy="184.4" r="3.9"/><circle cx="257.8" cy="185.9" r="3.9"/><circle cx="257.0" cy="187.1" r="3.9"/><circle cx="255.3" cy="186.3" r="3.9"/><circle cx="254.6" cy="184.4" r="3.9"/><circle cx="253.9" cy="182.6" r="3.9"/><circle cx="253.3" cy="181.1" r="3.9"/><circle cx="252.7" cy="179.8" r="3.9"/><circle cx="252.0" cy="178.3" r="3.9"/><circle cx="250.8" cy="177.6" r="3.9"/><circle cx="249.6" cy="179.2" r="3.9"/><circle cx="248.9" cy="180.4" r="3.9"/><circle cx="248.3" cy="182.4" r="3.9"/><circle cx="247.7" cy="183.9" r="3.9"/><circle cx="247.0" cy="185.4" r="3.9"/><circle cx="246.3" cy="186.8" r="3.9"/><circle cx="244.5" cy="186.4" r="3.9"/><circle cx="243.7" cy="184.8" r="3.9"/><circle cx="243.0" cy="183.3" r="3.9"/><circle cx="242.5" cy="181.6" r="3.9"/><circle cx="241.8" cy="179.9" r="3.9"/><circle cx="241.2" cy="178.4" r="3.9"/><circle cx="239.4" cy="177.7" r="3.9"/><circle cx="238.3" cy="179.3" r="3.9"/><circle cx="236.5" cy="179.9" r="3.9"/><circle cx="234.9" cy="179.3" r="3.9"/><circle cx="233.2" cy="179.3" r="3.9"/><circle cx="231.6" cy="178.5" r="3.9"/><circle cx="230.3" cy="177.9" r="3.9"/><circle cx="228.9" cy="176.7" r="3.9"/><circle cx="227.2" cy="176.2" r="3.9"/><circle cx="225.4" cy="176.6" r="3.9"/><circle cx="224.0" cy="177.6" r="3.9"/><circle cx="222.7" cy="178.9" r="3.9"/><circle cx="221.3" cy="179.7" r="3.9"/><circle cx="219.8" cy="180.4" r="3.9"/><circle cx="218.0" cy="180.3" r="3.9"/><circle cx="216.4" cy="179.8" r="3.9"/><circle cx="215.1" cy="178.5" r="3.9"/><circle cx="213.8" cy="176.7" r="3.9"/><circle cx="212.4" cy="175.7" r="3.9"/><circle cx="210.6" cy="175.4" r="3.9"/><circle cx="208.9" cy="176.6" r="3.9"/><circle cx="207.5" cy="177.9" r="3.9"/><circle cx="206.2" cy="178.7" r="3.9"/><circle cx="204.8" cy="180.2" r="3.9"/><circle cx="203.0" cy="180.0" r="3.9"/><circle cx="201.3" cy="179.9" r="3.9"/><circle cx="199.9" cy="178.9" r="3.9"/><circle cx="198.6" cy="177.3" r="3.9"/><circle cx="197.3" cy="176.2" r="3.9"/><circle cx="195.8" cy="175.4" r="3.9"/><circle cx="194.0" cy="174.6" r="3.9"/><circle cx="192.4" cy="176.2" r="3.9"/><circle cx="191.0" cy="176.8" r="3.9"/><circle cx="189.6" cy="177.9" r="3.9"/><circle cx="188.0" cy="179.0" r="3.9"/><circle cx="186.2" cy="178.8" r="3.9"/><circle cx="184.7" cy="177.5" r="3.9"/><circle cx="183.2" cy="176.3" r="3.9"/><circle cx="181.8" cy="175.3" r="3.9"/><circle cx="180.0" cy="175.9" r="3.9"/><circle cx="178.4" cy="176.7" r="3.9"/><circle cx="176.6" cy="176.7" r="3.9"/><circle cx="174.9" cy="175.8" r="3.9"/><circle cx="173.3" cy="175.0" r="3.9"/><circle cx="171.8" cy="174.1" r="3.9"/><circle cx="170.6" cy="172.9" r="3.9"/><circle cx="169.4" cy="171.5" r="3.9"/><circle cx="168.3" cy="169.9" r="3.9"/><circle cx="167.3" cy="168.1" r="3.9"/><circle cx="166.3" cy="166.8" r="3.9"/><circle cx="165.5" cy="165.3" r="3.9"/><circle cx="164.6" cy="163.4" r="3.9"/><circle cx="163.9" cy="161.6" r="3.9"/><circle cx="163.1" cy="159.6" r="3.9"/><circle cx="162.4" cy="158.1" r="3.9"/><circle cx="161.8" cy="156.5" r="3.9"/><circle cx="161.1" cy="154.3" r="3.9"/><circle cx="160.5" cy="152.5" r="3.9"/><circle cx="159.9" cy="150.9" r="3.9"/><circle cx="159.3" cy="149.5" r="3.9"/><circle cx="158.8" cy="147.5" r="3.9"/><circle cx="158.2" cy="145.4" r="3.9"/><circle cx="157.7" cy="144.1" r="3.9"/><circle cx="157.1" cy="142.8" r="3.9"/><circle cx="156.5" cy="141.0" r="3.9"/><circle cx="156.0" cy="138.9" r="3.9"/><circle cx="155.4" cy="137.5" r="3.9"/><circle cx="154.7" cy="135.9" r="3.9"/><circle cx="154.0" cy="134.4" r="3.9"/><circle cx="153.2" cy="133.3" r="3.9"/><circle cx="152.0" cy="132.2" r="3.9"/><circle cx="150.3" cy="132.6" r="3.9"/><circle cx="149.4" cy="134.2" r="3.9"/><circle cx="148.8" cy="136.4" r="3.9"/><circle cx="148.2" cy="138.0" r="3.9"/><circle cx="147.7" cy="139.5" r="3.9"/><circle cx="147.2" cy="141.6" r="3.9"/><circle cx="146.7" cy="143.5" r="3.9"/><circle cx="146.2" cy="144.8" r="3.9"/><circle cx="145.7" cy="146.7" r="3.9"/><circle cx="145.2" cy="148.5" r="3.9"/><circle cx="144.7" cy="149.8" r="3.9"/><circle cx="144.2" cy="152.2" r="3.9"/><circle cx="143.7" cy="153.2" r="3.9"/><circle cx="143.2" cy="155.4" r="3.9"/><circle cx="142.7" cy="156.7" r="3.9"/><circle cx="142.1" cy="158.4" r="3.9"/><circle cx="141.5" cy="159.7" r="3.9"/><circle cx="140.9" cy="161.4" r="3.9"/><circle cx="140.2" cy="163.4" r="3.9"/><circle cx="139.5" cy="164.7" r="3.9"/><circle cx="138.8" cy="166.1" r="3.9"/><circle cx="137.9" cy="167.7" r="3.9"/><circle cx="137.0" cy="169.1" r="3.9"/><circle cx="135.9" cy="170.6" r="3.9"/><circle cx="134.8" cy="171.6" r="3.9"/><circle cx="133.5" cy="172.8" r="3.9"/><circle cx="132.1" cy="173.9" r="3.9"/><circle cx="130.5" cy="174.7" r="3.9"/><circle cx="129.3" cy="176.3" r="3.9"/><circle cx="128.3" cy="177.6" r="3.9"/><circle cx="127.3" cy="179.1" r="3.9"/><circle cx="126.2" cy="180.5" r="3.9"/><circle cx="125.2" cy="182.3" r="3.9"/><circle cx="123.6" cy="183.1" r="3.9"/><circle cx="121.8" cy="183.7" r="3.9"/><circle cx="120.0" cy="183.5" r="3.9"/><circle cx="118.2" cy="183.9" r="3.9"/><circle cx="116.4" cy="184.0" r="3.9"/><circle cx="114.7" cy="183.4" r="3.9"/><circle cx="113.0" cy="182.7" r="3.9"/><circle cx="111.4" cy="182.3" r="3.9"/><circle cx="110.0" cy="180.6" r="3.9"/><circle cx="108.7" cy="179.6" r="3.9"/><circle cx="107.2" cy="178.7" r="3.9"/><circle cx="105.6" cy="179.5" r="3.9"/><circle cx="104.3" cy="180.6" r="3.9"/><circle cx="103.2" cy="182.6" r="3.9"/><circle cx="102.1" cy="184.2" r="3.9"/><circle cx="100.9" cy="184.9" r="3.9"/><circle cx="99.3" cy="185.6" r="3.9"/><circle cx="97.6" cy="185.5" r="3.9"/><circle cx="96.3" cy="183.5" r="3.9"/><circle cx="95.1" cy="182.1" r="3.9"/><circle cx="93.8" cy="181.4" r="3.9"/><circle cx="92.2" cy="180.6" r="3.9"/><circle cx="90.5" cy="181.6" r="3.9"/><circle cx="89.2" cy="182.9" r="3.9"/><circle cx="88.1" cy="184.0" r="3.9"/><circle cx="87.0" cy="185.7" r="3.9"/><circle cx="85.8" cy="186.8" r="3.9"/><circle cx="84.0" cy="186.8" r="3.9"/><circle cx="82.4" cy="186.3" r="3.9"/><circle cx="81.1" cy="184.8" r="3.9"/><circle cx="79.9" cy="183.4" r="3.9"/><circle cx="78.6" cy="182.5" r="3.9"/><circle cx="76.8" cy="182.2" r="3.9"/><circle cx="75.2" cy="182.7" r="3.9"/><circle cx="74.0" cy="184.2" r="3.9"/><circle cx="72.9" cy="186.0" r="3.9"/><circle cx="71.7" cy="187.0" r="3.9"/><circle cx="70.4" cy="188.2" r="3.9"/><circle cx="68.6" cy="188.4" r="3.9"/><circle cx="67.1" cy="187.0" r="3.9"/><circle cx="65.9" cy="186.2" r="3.9"/><circle cx="64.7" cy="184.8" r="3.9"/><circle cx="63.4" cy="183.5" r="3.9"/><circle cx="61.6" cy="182.9" r="3.9"/><circle cx="60.2" cy="184.6" r="3.9"/><circle cx="59.1" cy="185.8" r="3.9"/><circle cx="57.5" cy="186.5" r="3.9"/></g>
<g fill="#ffd6ff" stroke="#f01cf0" stroke-width="1.4"><circle cx="540.2" cy="255.2" r="3.9"/><circle cx="538.4" cy="255.2" r="3.9"/><circle cx="536.6" cy="255.3" r="3.9"/><circle cx="534.8" cy="254.7" r="3.9"/><circle cx="533.0" cy="254.8" r="3.9"/><circle cx="531.2" cy="255.1" r="3.9"/><circle cx="529.4" cy="255.1" r="3.9"/><circle cx="527.6" cy="255.1" r="3.9"/><circle cx="525.8" cy="254.9" r="3.9"/><circle cx="524.0" cy="254.6" r="3.9"/><circle cx="522.2" cy="254.9" r="3.9"/><circle cx="520.4" cy="254.9" r="3.9"/><circle cx="518.6" cy="254.9" r="3.9"/><circle cx="516.8" cy="255.0" r="3.9"/><circle cx="515.0" cy="254.7" r="3.9"/><circle cx="513.2" cy="254.7" r="3.9"/><circle cx="511.4" cy="254.6" r="3.9"/><circle cx="509.6" cy="254.8" r="3.9"/><circle cx="507.8" cy="255.1" r="3.9"/><circle cx="506.0" cy="254.5" r="3.9"/><circle cx="504.2" cy="254.6" r="3.9"/><circle cx="502.4" cy="254.5" r="3.9"/><circle cx="500.6" cy="255.0" r="3.9"/><circle cx="498.8" cy="254.9" r="3.9"/><circle cx="497.0" cy="254.5" r="3.9"/><circle cx="495.2" cy="254.8" r="3.9"/><circle cx="493.4" cy="255.0" r="3.9"/><circle cx="491.6" cy="254.6" r="3.9"/><circle cx="489.8" cy="254.6" r="3.9"/><circle cx="488.0" cy="254.5" r="3.9"/><circle cx="486.2" cy="254.5" r="3.9"/><circle cx="484.4" cy="255.0" r="3.9"/><circle cx="482.6" cy="254.7" r="3.9"/><circle cx="480.8" cy="254.3" r="3.9"/><circle cx="479.0" cy="254.6" r="3.9"/><circle cx="477.2" cy="255.0" r="3.9"/><circle cx="475.4" cy="254.9" r="3.9"/><circle cx="473.6" cy="254.7" r="3.9"/><circle cx="471.8" cy="254.5" r="3.9"/><circle cx="470.0" cy="254.8" r="3.9"/><circle cx="468.2" cy="254.3" r="3.9"/><circle cx="466.4" cy="254.4" r="3.9"/><circle cx="464.6" cy="254.1" r="3.9"/><circle cx="462.8" cy="254.1" r="3.9"/><circle cx="461.0" cy="254.0" r="3.9"/><circle cx="459.2" cy="254.0" r="3.9"/><circle cx="457.4" cy="253.9" r="3.9"/><circle cx="455.6" cy="253.3" r="3.9"/><circle cx="453.8" cy="253.5" r="3.9"/><circle cx="452.0" cy="253.5" r="3.9"/><circle cx="450.2" cy="252.8" r="3.9"/><circle cx="448.4" cy="252.6" r="3.9"/><circle cx="446.6" cy="252.5" r="3.9"/><circle cx="444.8" cy="252.7" r="3.9"/><circle cx="443.0" cy="252.8" r="3.9"/><circle cx="441.2" cy="252.0" r="3.9"/><circle cx="439.4" cy="251.9" r="3.9"/><circle cx="437.6" cy="252.1" r="3.9"/><circle cx="435.8" cy="251.5" r="3.9"/><circle cx="434.0" cy="251.5" r="3.9"/><circle cx="432.2" cy="251.0" r="3.9"/><circle cx="430.4" cy="250.8" r="3.9"/><circle cx="428.6" cy="249.8" r="3.9"/><circle cx="426.8" cy="249.5" r="3.9"/><circle cx="425.0" cy="249.8" r="3.9"/><circle cx="423.2" cy="248.8" r="3.9"/><circle cx="421.4" cy="248.4" r="3.9"/><circle cx="419.7" cy="248.1" r="3.9"/><circle cx="418.0" cy="247.0" r="3.9"/><circle cx="416.3" cy="246.3" r="3.9"/><circle cx="414.6" cy="245.8" r="3.9"/><circle cx="413.0" cy="244.9" r="3.9"/><circle cx="411.3" cy="244.9" r="3.9"/><circle cx="409.6" cy="243.9" r="3.9"/><circle cx="407.8" cy="243.6" r="3.9"/><circle cx="406.0" cy="242.8" r="3.9"/><circle cx="404.2" cy="243.2" r="3.9"/><circle cx="402.4" cy="243.0" r="3.9"/><circle cx="400.6" cy="243.0" r="3.9"/><circle cx="398.8" cy="243.7" r="3.9"/><circle cx="397.0" cy="244.2" r="3.9"/><circle cx="395.3" cy="244.6" r="3.9"/><circle cx="393.6" cy="245.5" r="3.9"/><circle cx="392.0" cy="245.6" r="3.9"/><circle cx="390.3" cy="246.7" r="3.9"/><circle cx="388.6" cy="247.2" r="3.9"/><circle cx="386.9" cy="248.2" r="3.9"/><circle cx="385.1" cy="248.6" r="3.9"/><circle cx="383.3" cy="248.8" r="3.9"/><circle cx="381.5" cy="249.5" r="3.9"/><circle cx="379.7" cy="249.9" r="3.9"/><circle cx="377.9" cy="249.8" r="3.9"/><circle cx="376.1" cy="250.2" r="3.9"/><circle cx="374.3" cy="250.9" r="3.9"/><circle cx="372.5" cy="250.5" r="3.9"/><circle cx="370.7" cy="251.1" r="3.9"/><circle cx="368.9" cy="251.7" r="3.9"/><circle cx="367.1" cy="251.3" r="3.9"/><circle cx="365.3" cy="251.2" r="3.9"/><circle cx="363.5" cy="251.7" r="3.9"/><circle cx="361.7" cy="251.6" r="3.9"/><circle cx="359.9" cy="251.6" r="3.9"/><circle cx="358.1" cy="251.8" r="3.9"/><circle cx="356.3" cy="252.2" r="3.9"/><circle cx="354.5" cy="252.2" r="3.9"/><circle cx="352.7" cy="252.5" r="3.9"/><circle cx="350.9" cy="252.1" r="3.9"/><circle cx="349.1" cy="252.2" r="3.9"/><circle cx="347.3" cy="252.7" r="3.9"/><circle cx="345.5" cy="252.4" r="3.9"/><circle cx="343.7" cy="252.4" r="3.9"/><circle cx="341.9" cy="252.5" r="3.9"/><circle cx="340.1" cy="252.9" r="3.9"/><circle cx="338.3" cy="252.7" r="3.9"/><circle cx="336.5" cy="252.9" r="3.9"/><circle cx="334.7" cy="252.6" r="3.9"/><circle cx="332.9" cy="253.0" r="3.9"/><circle cx="331.1" cy="252.6" r="3.9"/><circle cx="329.3" cy="252.4" r="3.9"/><circle cx="327.5" cy="252.4" r="3.9"/><circle cx="325.7" cy="252.8" r="3.9"/><circle cx="323.9" cy="252.9" r="3.9"/><circle cx="322.1" cy="252.6" r="3.9"/><circle cx="320.3" cy="252.5" r="3.9"/><circle cx="318.5" cy="252.4" r="3.9"/><circle cx="316.7" cy="252.5" r="3.9"/><circle cx="314.9" cy="252.5" r="3.9"/><circle cx="313.1" cy="253.0" r="3.9"/><circle cx="311.3" cy="253.0" r="3.9"/><circle cx="309.5" cy="253.1" r="3.9"/><circle cx="307.7" cy="252.7" r="3.9"/><circle cx="305.9" cy="252.4" r="3.9"/><circle cx="304.1" cy="253.0" r="3.9"/><circle cx="302.3" cy="253.0" r="3.9"/><circle cx="300.5" cy="252.7" r="3.9"/><circle cx="298.7" cy="252.3" r="3.9"/><circle cx="296.9" cy="252.3" r="3.9"/><circle cx="295.1" cy="252.3" r="3.9"/><circle cx="293.3" cy="252.8" r="3.9"/><circle cx="291.5" cy="252.2" r="3.9"/><circle cx="289.7" cy="252.8" r="3.9"/><circle cx="287.9" cy="252.6" r="3.9"/><circle cx="286.1" cy="252.3" r="3.9"/><circle cx="284.3" cy="252.5" r="3.9"/><circle cx="282.5" cy="252.2" r="3.9"/><circle cx="280.7" cy="252.5" r="3.9"/><circle cx="278.9" cy="252.5" r="3.9"/><circle cx="277.1" cy="252.4" r="3.9"/><circle cx="275.3" cy="252.6" r="3.9"/><circle cx="273.5" cy="251.9" r="3.9"/><circle cx="271.7" cy="252.0" r="3.9"/><circle cx="269.9" cy="252.2" r="3.9"/><circle cx="268.1" cy="252.0" r="3.9"/><circle cx="266.3" cy="251.9" r="3.9"/><circle cx="264.5" cy="251.7" r="3.9"/><circle cx="262.7" cy="251.5" r="3.9"/><circle cx="260.9" cy="251.6" r="3.9"/><circle cx="259.1" cy="251.5" r="3.9"/><circle cx="257.3" cy="251.5" r="3.9"/><circle cx="255.5" cy="251.7" r="3.9"/><circle cx="253.7" cy="251.5" r="3.9"/><circle cx="251.9" cy="251.2" r="3.9"/><circle cx="250.1" cy="251.7" r="3.9"/><circle cx="248.3" cy="251.6" r="3.9"/><circle cx="246.5" cy="251.2" r="3.9"/><circle cx="244.7" cy="251.3" r="3.9"/><circle cx="242.9" cy="251.5" r="3.9"/><circle cx="241.1" cy="251.5" r="3.9"/><circle cx="239.3" cy="251.6" r="3.9"/><circle cx="237.5" cy="251.0" r="3.9"/><circle cx="235.7" cy="251.3" r="3.9"/><circle cx="233.9" cy="251.1" r="3.9"/><circle cx="232.1" cy="251.3" r="3.9"/><circle cx="230.3" cy="251.2" r="3.9"/><circle cx="228.5" cy="250.4" r="3.9"/><circle cx="226.7" cy="251.0" r="3.9"/><circle cx="224.9" cy="250.6" r="3.9"/><circle cx="223.1" cy="250.4" r="3.9"/><circle cx="221.3" cy="250.3" r="3.9"/><circle cx="219.5" cy="250.4" r="3.9"/><circle cx="217.7" cy="250.4" r="3.9"/><circle cx="215.9" cy="250.0" r="3.9"/><circle cx="214.1" cy="249.9" r="3.9"/><circle cx="212.3" cy="250.3" r="3.9"/><circle cx="210.5" cy="249.6" r="3.9"/><circle cx="208.7" cy="249.7" r="3.9"/><circle cx="206.9" cy="249.4" r="3.9"/><circle cx="205.1" cy="249.1" r="3.9"/><circle cx="203.3" cy="249.4" r="3.9"/><circle cx="201.5" cy="249.3" r="3.9"/><circle cx="199.7" cy="248.8" r="3.9"/><circle cx="197.9" cy="249.2" r="3.9"/><circle cx="196.1" cy="248.8" r="3.9"/><circle cx="194.3" cy="248.4" r="3.9"/><circle cx="192.5" cy="248.6" r="3.9"/><circle cx="190.7" cy="248.5" r="3.9"/><circle cx="188.9" cy="247.6" r="3.9"/><circle cx="187.1" cy="248.0" r="3.9"/><circle cx="185.3" cy="247.5" r="3.9"/><circle cx="183.5" cy="246.9" r="3.9"/><circle cx="181.7" cy="246.1" r="3.9"/><circle cx="180.0" cy="246.0" r="3.9"/><circle cx="178.3" cy="245.5" r="3.9"/><circle cx="176.7" cy="244.1" r="3.9"/><circle cx="175.2" cy="243.0" r="3.9"/><circle cx="173.8" cy="242.5" r="3.9"/><circle cx="172.5" cy="241.0" r="3.9"/><circle cx="171.3" cy="239.5" r="3.9"/><circle cx="170.1" cy="237.9" r="3.9"/><circle cx="169.1" cy="236.4" r="3.9"/><circle cx="168.1" cy="235.0" r="3.9"/><circle cx="167.2" cy="233.4" r="3.9"/><circle cx="166.4" cy="231.7" r="3.9"/><circle cx="165.6" cy="230.2" r="3.9"/><circle cx="164.9" cy="228.2" r="3.9"/><circle cx="164.2" cy="226.2" r="3.9"/><circle cx="163.5" cy="224.6" r="3.9"/><circle cx="162.9" cy="223.4" r="3.9"/><circle cx="162.2" cy="221.1" r="3.9"/><circle cx="161.6" cy="219.8" r="3.9"/><circle cx="161.0" cy="218.0" r="3.9"/><circle cx="160.5" cy="215.8" r="3.9"/><circle cx="159.9" cy="214.4" r="3.9"/><circle cx="159.4" cy="212.7" r="3.9"/><circle cx="158.8" cy="210.6" r="3.9"/><circle cx="158.2" cy="208.7" r="3.9"/><circle cx="157.7" cy="207.2" r="3.9"/><circle cx="157.1" cy="205.9" r="3.9"/><circle cx="156.6" cy="204.0" r="3.9"/><circle cx="155.9" cy="202.6" r="3.9"/><circle cx="155.3" cy="201.2" r="3.9"/><circle cx="154.6" cy="199.6" r="3.9"/><circle cx="153.8" cy="197.9" r="3.9"/><circle cx="152.7" cy="196.6" r="3.9"/><circle cx="150.9" cy="197.1" r="3.9"/><circle cx="149.7" cy="198.1" r="3.9"/><circle cx="148.8" cy="200.0" r="3.9"/><circle cx="148.1" cy="201.4" r="3.9"/><circle cx="147.5" cy="203.5" r="3.9"/><circle cx="146.9" cy="205.4" r="3.9"/><circle cx="146.4" cy="206.7" r="3.9"/><circle cx="145.8" cy="208.3" r="3.9"/><circle cx="145.3" cy="210.2" r="3.9"/><circle cx="144.7" cy="212.1" r="3.9"/><circle cx="144.2" cy="214.3" r="3.9"/><circle cx="143.7" cy="215.7" r="3.9"/><circle cx="143.2" cy="217.5" r="3.9"/><circle cx="142.7" cy="219.2" r="3.9"/><circle cx="142.1" cy="220.3" r="3.9"/><circle cx="141.6" cy="222.1" r="3.9"/><circle cx="141.0" cy="223.7" r="3.9"/><circle cx="140.4" cy="225.3" r="3.9"/><circle cx="139.8" cy="227.6" r="3.9"/><circle cx="139.2" cy="229.2" r="3.9"/><circle cx="138.6" cy="230.4" r="3.9"/><circle cx="137.9" cy="232.2" r="3.9"/><circle cx="137.2" cy="233.9" r="3.9"/><circle cx="136.4" cy="235.1" r="3.9"/><circle cx="135.6" cy="236.5" r="3.9"/><circle cx="134.7" cy="238.2" r="3.9"/><circle cx="133.7" cy="239.7" r="3.9"/><circle cx="132.6" cy="241.1" r="3.9"/><circle cx="131.4" cy="242.6" r="3.9"/><circle cx="130.2" cy="243.4" r="3.9"/><circle cx="128.8" cy="244.7" r="3.9"/><circle cx="127.3" cy="245.7" r="3.9"/><circle cx="125.7" cy="246.6" r="3.9"/><circle cx="124.0" cy="246.7" r="3.9"/><circle cx="122.3" cy="247.6" r="3.9"/><circle cx="120.5" cy="248.4" r="3.9"/><circle cx="118.7" cy="248.7" r="3.9"/><circle cx="116.9" cy="248.6" r="3.9"/><circle cx="115.1" cy="249.1" r="3.9"/><circle cx="113.3" cy="249.4" r="3.9"/><circle cx="111.5" cy="249.6" r="3.9"/><circle cx="109.7" cy="250.4" r="3.9"/><circle cx="107.9" cy="250.2" r="3.9"/><circle cx="106.1" cy="250.3" r="3.9"/><circle cx="104.3" cy="250.2" r="3.9"/><circle cx="102.5" cy="251.1" r="3.9"/><circle cx="100.7" cy="251.0" r="3.9"/><circle cx="98.9" cy="250.7" r="3.9"/><circle cx="97.1" cy="251.5" r="3.9"/><circle cx="95.3" cy="250.9" r="3.9"/><circle cx="93.5" cy="251.0" r="3.9"/><circle cx="91.7" cy="251.1" r="3.9"/><circle cx="89.9" cy="251.6" r="3.9"/><circle cx="88.1" cy="251.9" r="3.9"/><circle cx="86.3" cy="251.3" r="3.9"/><circle cx="84.5" cy="251.6" r="3.9"/><circle cx="82.7" cy="252.0" r="3.9"/><circle cx="80.9" cy="251.8" r="3.9"/><circle cx="79.1" cy="251.9" r="3.9"/><circle cx="77.3" cy="252.2" r="3.9"/><circle cx="75.5" cy="252.5" r="3.9"/><circle cx="73.7" cy="252.2" r="3.9"/><circle cx="71.9" cy="252.0" r="3.9"/><circle cx="70.1" cy="251.9" r="3.9"/><circle cx="68.3" cy="252.0" r="3.9"/><circle cx="66.5" cy="252.0" r="3.9"/><circle cx="64.7" cy="252.2" r="3.9"/><circle cx="62.9" cy="252.3" r="3.9"/><circle cx="61.1" cy="252.9" r="3.9"/><circle cx="59.3" cy="252.6" r="3.9"/><circle cx="57.5" cy="252.6" r="3.9"/></g>
<g fill="#f0f0cc" stroke="#a3a834" stroke-width="1.3"><circle cx="539.3" cy="326.7" r="3.6"/><circle cx="537.5" cy="327.0" r="3.6"/><circle cx="535.7" cy="326.7" r="3.6"/><circle cx="533.9" cy="327.0" r="3.6"/><circle cx="532.1" cy="327.1" r="3.6"/><circle cx="530.3" cy="327.1" r="3.6"/><circle cx="528.5" cy="326.5" r="3.6"/><circle cx="526.7" cy="326.8" r="3.6"/><circle cx="524.9" cy="327.0" r="3.6"/><circle cx="523.1" cy="326.5" r="3.6"/><circle cx="521.3" cy="326.6" r="3.6"/><circle cx="519.5" cy="327.0" r="3.6"/><circle cx="517.7" cy="326.9" r="3.6"/><circle cx="515.9" cy="326.9" r="3.6"/><circle cx="514.1" cy="326.9" r="3.6"/><circle cx="512.3" cy="326.6" r="3.6"/><circle cx="510.5" cy="326.5" r="3.6"/><circle cx="508.7" cy="326.8" r="3.6"/><circle cx="506.9" cy="326.4" r="3.6"/><circle cx="505.1" cy="326.7" r="3.6"/><circle cx="503.3" cy="326.4" r="3.6"/><circle cx="501.5" cy="326.9" r="3.6"/><circle cx="499.7" cy="326.2" r="3.6"/><circle cx="497.9" cy="326.8" r="3.6"/><circle cx="496.1" cy="326.6" r="3.6"/><circle cx="494.3" cy="326.4" r="3.6"/><circle cx="492.5" cy="326.5" r="3.6"/><circle cx="490.7" cy="326.0" r="3.6"/><circle cx="488.9" cy="326.1" r="3.6"/><circle cx="487.1" cy="326.4" r="3.6"/><circle cx="485.3" cy="326.3" r="3.6"/><circle cx="483.5" cy="325.9" r="3.6"/><circle cx="481.7" cy="326.0" r="3.6"/><circle cx="479.9" cy="326.1" r="3.6"/><circle cx="478.1" cy="326.3" r="3.6"/><circle cx="476.3" cy="325.9" r="3.6"/><circle cx="474.5" cy="326.3" r="3.6"/><circle cx="472.7" cy="326.2" r="3.6"/><circle cx="470.9" cy="326.3" r="3.6"/><circle cx="469.1" cy="325.8" r="3.6"/><circle cx="467.3" cy="325.9" r="3.6"/><circle cx="465.5" cy="325.5" r="3.6"/><circle cx="463.7" cy="325.6" r="3.6"/><circle cx="461.9" cy="325.7" r="3.6"/><circle cx="460.1" cy="325.6" r="3.6"/><circle cx="458.3" cy="325.2" r="3.6"/><circle cx="456.5" cy="324.9" r="3.6"/><circle cx="454.7" cy="325.1" r="3.6"/><circle cx="452.9" cy="324.6" r="3.6"/><circle cx="451.1" cy="324.5" r="3.6"/><circle cx="449.3" cy="324.5" r="3.6"/><circle cx="447.5" cy="324.4" r="3.6"/><circle cx="445.7" cy="324.6" r="3.6"/><circle cx="443.9" cy="323.8" r="3.6"/><circle cx="442.1" cy="324.0" r="3.6"/><circle cx="440.3" cy="323.7" r="3.6"/><circle cx="438.5" cy="323.5" r="3.6"/><circle cx="436.7" cy="322.8" r="3.6"/><circle cx="434.9" cy="322.7" r="3.6"/><circle cx="433.1" cy="322.8" r="3.6"/><circle cx="431.3" cy="322.5" r="3.6"/><circle cx="429.5" cy="321.5" r="3.6"/><circle cx="427.7" cy="321.6" r="3.6"/><circle cx="425.9" cy="320.5" r="3.6"/><circle cx="424.1" cy="320.5" r="3.6"/><circle cx="422.4" cy="319.4" r="3.6"/><circle cx="420.7" cy="319.1" r="3.6"/><circle cx="419.0" cy="317.8" r="3.6"/><circle cx="417.3" cy="317.2" r="3.6"/><circle cx="415.7" cy="316.6" r="3.6"/><circle cx="414.1" cy="316.4" r="3.6"/><circle cx="412.4" cy="315.2" r="3.6"/><circle cx="410.8" cy="314.3" r="3.6"/><circle cx="409.1" cy="313.6" r="3.6"/><circle cx="407.5" cy="312.9" r="3.6"/><circle cx="405.7" cy="312.2" r="3.6"/><circle cx="403.9" cy="312.4" r="3.6"/><circle cx="402.1" cy="311.9" r="3.6"/><circle cx="400.3" cy="311.9" r="3.6"/><circle cx="398.5" cy="311.9" r="3.6"/><circle cx="396.7" cy="312.8" r="3.6"/><circle cx="395.0" cy="313.2" r="3.6"/><circle cx="393.3" cy="314.1" r="3.6"/><circle cx="391.6" cy="314.9" r="3.6"/><circle cx="390.0" cy="315.6" r="3.6"/><circle cx="388.3" cy="316.3" r="3.6"/><circle cx="386.7" cy="317.0" r="3.6"/><circle cx="385.0" cy="317.2" r="3.6"/><circle cx="383.4" cy="318.3" r="3.6"/><circle cx="381.7" cy="319.2" r="3.6"/><circle cx="380.0" cy="319.4" r="3.6"/><circle cx="378.2" cy="319.9" r="3.6"/><circle cx="376.4" cy="320.4" r="3.6"/><circle cx="374.6" cy="320.6" r="3.6"/><circle cx="372.8" cy="321.6" r="3.6"/><circle cx="371.0" cy="321.6" r="3.6"/><circle cx="369.2" cy="322.4" r="3.6"/><circle cx="367.4" cy="322.6" r="3.6"/><circle cx="365.6" cy="323.1" r="3.6"/><circle cx="363.8" cy="323.1" r="3.6"/><circle cx="362.0" cy="323.6" r="3.6"/><circle cx="360.2" cy="323.2" r="3.6"/><circle cx="358.4" cy="323.5" r="3.6"/><circle cx="356.6" cy="323.8" r="3.6"/><circle cx="354.8" cy="324.1" r="3.6"/><circle cx="353.0" cy="324.2" r="3.6"/><circle cx="351.2" cy="323.8" r="3.6"/><circle cx="349.4" cy="323.9" r="3.6"/><circle cx="347.6" cy="324.7" r="3.6"/><circle cx="345.8" cy="324.6" r="3.6"/><circle cx="344.0" cy="324.6" r="3.6"/><circle cx="342.2" cy="324.7" r="3.6"/><circle cx="340.4" cy="325.0" r="3.6"/><circle cx="338.6" cy="324.9" r="3.6"/><circle cx="336.8" cy="324.7" r="3.6"/><circle cx="335.0" cy="325.0" r="3.6"/><circle cx="333.2" cy="324.7" r="3.6"/><circle cx="331.4" cy="324.6" r="3.6"/><circle cx="329.6" cy="325.2" r="3.6"/><circle cx="327.8" cy="325.1" r="3.6"/><circle cx="326.0" cy="325.0" r="3.6"/><circle cx="324.2" cy="325.3" r="3.6"/><circle cx="322.4" cy="325.3" r="3.6"/><circle cx="320.6" cy="325.2" r="3.6"/><circle cx="318.8" cy="324.9" r="3.6"/><circle cx="317.0" cy="325.3" r="3.6"/><circle cx="315.2" cy="324.9" r="3.6"/><circle cx="313.4" cy="324.7" r="3.6"/><circle cx="311.6" cy="325.4" r="3.6"/><circle cx="309.8" cy="325.3" r="3.6"/><circle cx="308.0" cy="325.1" r="3.6"/><circle cx="306.2" cy="324.7" r="3.6"/><circle cx="304.4" cy="324.7" r="3.6"/><circle cx="302.6" cy="325.0" r="3.6"/><circle cx="300.8" cy="324.9" r="3.6"/><circle cx="299.0" cy="324.9" r="3.6"/><circle cx="297.2" cy="325.3" r="3.6"/><circle cx="295.4" cy="325.0" r="3.6"/><circle cx="293.6" cy="324.7" r="3.6"/><circle cx="291.8" cy="325.1" r="3.6"/><circle cx="290.0" cy="324.7" r="3.6"/><circle cx="288.2" cy="324.8" r="3.6"/><circle cx="286.4" cy="325.2" r="3.6"/><circle cx="284.6" cy="325.3" r="3.6"/><circle cx="282.8" cy="324.7" r="3.6"/><circle cx="281.0" cy="325.4" r="3.6"/><circle cx="279.2" cy="325.3" r="3.6"/><circle cx="277.4" cy="325.3" r="3.6"/><circle cx="275.6" cy="324.6" r="3.6"/><circle cx="273.8" cy="325.1" r="3.6"/><circle cx="272.0" cy="325.2" r="3.6"/><circle cx="270.2" cy="324.5" r="3.6"/><circle cx="268.4" cy="325.0" r="3.6"/><circle cx="266.6" cy="325.0" r="3.6"/><circle cx="264.8" cy="324.9" r="3.6"/><circle cx="263.0" cy="325.2" r="3.6"/><circle cx="261.2" cy="324.4" r="3.6"/><circle cx="259.4" cy="324.8" r="3.6"/><circle cx="257.6" cy="324.4" r="3.6"/><circle cx="255.8" cy="324.8" r="3.6"/><circle cx="254.0" cy="324.9" r="3.6"/><circle cx="252.2" cy="325.1" r="3.6"/><circle cx="250.4" cy="324.7" r="3.6"/><circle cx="248.6" cy="324.5" r="3.6"/><circle cx="246.8" cy="324.7" r="3.6"/><circle cx="245.0" cy="324.7" r="3.6"/><circle cx="243.2" cy="324.3" r="3.6"/><circle cx="241.4" cy="324.3" r="3.6"/><circle cx="239.6" cy="324.7" r="3.6"/><circle cx="237.8" cy="324.8" r="3.6"/><circle cx="236.0" cy="324.3" r="3.6"/><circle cx="234.2" cy="324.0" r="3.6"/><circle cx="232.4" cy="324.5" r="3.6"/><circle cx="230.6" cy="324.2" r="3.6"/><circle cx="228.8" cy="323.9" r="3.6"/><circle cx="227.0" cy="324.2" r="3.6"/><circle cx="225.2" cy="324.3" r="3.6"/><circle cx="223.4" cy="324.3" r="3.6"/><circle cx="221.6" cy="324.0" r="3.6"/><circle cx="219.8" cy="324.0" r="3.6"/><circle cx="218.0" cy="324.3" r="3.6"/><circle cx="216.2" cy="324.1" r="3.6"/><circle cx="214.4" cy="323.6" r="3.6"/><circle cx="212.6" cy="323.9" r="3.6"/><circle cx="210.8" cy="323.4" r="3.6"/><circle cx="209.0" cy="323.8" r="3.6"/><circle cx="207.2" cy="323.5" r="3.6"/><circle cx="205.4" cy="323.5" r="3.6"/><circle cx="203.6" cy="323.4" r="3.6"/><circle cx="201.8" cy="322.7" r="3.6"/><circle cx="200.0" cy="322.9" r="3.6"/><circle cx="198.2" cy="323.0" r="3.6"/><circle cx="196.4" cy="322.3" r="3.6"/><circle cx="194.6" cy="322.3" r="3.6"/><circle cx="192.8" cy="322.6" r="3.6"/><circle cx="191.0" cy="322.0" r="3.6"/><circle cx="189.2" cy="321.8" r="3.6"/><circle cx="187.4" cy="321.5" r="3.6"/><circle cx="185.6" cy="321.1" r="3.6"/><circle cx="183.8" cy="320.8" r="3.6"/><circle cx="182.0" cy="320.4" r="3.6"/><circle cx="180.2" cy="319.8" r="3.6"/><circle cx="178.5" cy="319.7" r="3.6"/><circle cx="176.8" cy="318.6" r="3.6"/><circle cx="175.3" cy="318.0" r="3.6"/><circle cx="173.8" cy="316.5" r="3.6"/><circle cx="172.4" cy="315.8" r="3.6"/><circle cx="171.1" cy="314.3" r="3.6"/><circle cx="169.9" cy="312.6" r="3.6"/><circle cx="168.9" cy="311.6" r="3.6"/><circle cx="167.9" cy="309.5" r="3.6"/><circle cx="167.0" cy="307.8" r="3.6"/><circle cx="166.1" cy="306.4" r="3.6"/><circle cx="165.3" cy="304.8" r="3.6"/><circle cx="164.6" cy="303.0" r="3.6"/><circle cx="163.9" cy="301.1" r="3.6"/><circle cx="163.2" cy="299.6" r="3.6"/><circle cx="162.6" cy="297.8" r="3.6"/><circle cx="162.0" cy="296.3" r="3.6"/><circle cx="161.4" cy="293.8" r="3.6"/><circle cx="160.9" cy="292.5" r="3.6"/><circle cx="160.3" cy="290.6" r="3.6"/><circle cx="159.8" cy="289.0" r="3.6"/><circle cx="159.3" cy="287.2" r="3.6"/><circle cx="158.8" cy="285.3" r="3.6"/><circle cx="158.3" cy="283.3" r="3.6"/><circle cx="157.8" cy="282.1" r="3.6"/><circle cx="157.3" cy="279.8" r="3.6"/><circle cx="156.8" cy="278.4" r="3.6"/><circle cx="156.3" cy="276.5" r="3.6"/><circle cx="155.8" cy="275.2" r="3.6"/><circle cx="155.3" cy="273.2" r="3.6"/><circle cx="154.8" cy="271.4" r="3.6"/><circle cx="154.3" cy="269.7" r="3.6"/><circle cx="153.7" cy="268.5" r="3.6"/><circle cx="153.2" cy="266.4" r="3.6"/><circle cx="152.5" cy="265.4" r="3.6"/><circle cx="151.8" cy="263.9" r="3.6"/><circle cx="150.8" cy="262.8" r="3.6"/><circle cx="149.0" cy="262.4" r="3.6"/><circle cx="147.8" cy="263.8" r="3.6"/><circle cx="147.0" cy="265.7" r="3.6"/><circle cx="146.3" cy="267.5" r="3.6"/><circle cx="145.8" cy="269.4" r="3.6"/><circle cx="145.2" cy="270.5" r="3.6"/><circle cx="144.7" cy="272.2" r="3.6"/><circle cx="144.2" cy="274.1" r="3.6"/><circle cx="143.7" cy="276.0" r="3.6"/><circle cx="143.3" cy="277.6" r="3.6"/><circle cx="142.8" cy="279.3" r="3.6"/><circle cx="142.3" cy="281.4" r="3.6"/><circle cx="141.9" cy="283.1" r="3.6"/><circle cx="141.4" cy="284.8" r="3.6"/><circle cx="141.0" cy="286.5" r="3.6"/><circle cx="140.5" cy="288.2" r="3.6"/><circle cx="140.1" cy="289.6" r="3.6"/><circle cx="139.6" cy="291.5" r="3.6"/><circle cx="139.1" cy="293.2" r="3.6"/><circle cx="138.6" cy="295.2" r="3.6"/><circle cx="138.1" cy="296.9" r="3.6"/><circle cx="137.6" cy="298.1" r="3.6"/><circle cx="137.1" cy="300.2" r="3.6"/><circle cx="136.5" cy="301.8" r="3.6"/><circle cx="135.9" cy="302.8" r="3.6"/><circle cx="135.3" cy="304.8" r="3.6"/><circle cx="134.6" cy="306.3" r="3.6"/><circle cx="133.9" cy="307.8" r="3.6"/><circle cx="133.2" cy="309.6" r="3.6"/><circle cx="132.4" cy="310.6" r="3.6"/><circle cx="131.5" cy="312.2" r="3.6"/><circle cx="130.5" cy="313.8" r="3.6"/><circle cx="129.4" cy="315.2" r="3.6"/><circle cx="128.2" cy="316.2" r="3.6"/><circle cx="126.8" cy="317.9" r="3.6"/><circle cx="125.4" cy="318.6" r="3.6"/><circle cx="123.8" cy="319.3" r="3.6"/><circle cx="122.2" cy="320.1" r="3.6"/><circle cx="120.5" cy="320.7" r="3.6"/><circle cx="118.7" cy="321.7" r="3.6"/><circle cx="116.9" cy="321.5" r="3.6"/><circle cx="115.1" cy="322.5" r="3.6"/><circle cx="113.3" cy="322.4" r="3.6"/><circle cx="111.5" cy="322.8" r="3.6"/><circle cx="109.7" cy="323.3" r="3.6"/><circle cx="107.9" cy="323.1" r="3.6"/><circle cx="106.1" cy="323.7" r="3.6"/><circle cx="104.3" cy="323.7" r="3.6"/><circle cx="102.5" cy="323.7" r="3.6"/><circle cx="100.7" cy="323.7" r="3.6"/><circle cx="98.9" cy="324.5" r="3.6"/><circle cx="97.1" cy="324.5" r="3.6"/><circle cx="95.3" cy="324.7" r="3.6"/><circle cx="93.5" cy="324.5" r="3.6"/><circle cx="91.7" cy="324.4" r="3.6"/><circle cx="89.9" cy="325.0" r="3.6"/><circle cx="88.1" cy="325.2" r="3.6"/><circle cx="86.3" cy="325.2" r="3.6"/><circle cx="84.5" cy="325.2" r="3.6"/><circle cx="82.7" cy="325.5" r="3.6"/><circle cx="80.9" cy="325.4" r="3.6"/><circle cx="79.1" cy="325.5" r="3.6"/><circle cx="77.3" cy="325.7" r="3.6"/><circle cx="75.5" cy="325.9" r="3.6"/><circle cx="73.7" cy="326.2" r="3.6"/><circle cx="71.9" cy="326.1" r="3.6"/><circle cx="70.1" cy="325.9" r="3.6"/><circle cx="68.3" cy="325.9" r="3.6"/><circle cx="66.5" cy="326.4" r="3.6"/><circle cx="64.7" cy="326.5" r="3.6"/><circle cx="62.9" cy="326.5" r="3.6"/><circle cx="61.1" cy="326.1" r="3.6"/><circle cx="59.3" cy="326.8" r="3.6"/><circle cx="57.5" cy="326.2" r="3.6"/></g>
<g fill="#dcdcff" stroke="#2a2ae8" stroke-width="1.4"><circle cx="538.9" cy="386.6" r="3.9"/><circle cx="537.1" cy="386.9" r="3.9"/><circle cx="535.3" cy="387.1" r="3.9"/><circle cx="533.5" cy="386.7" r="3.9"/><circle cx="531.7" cy="387.1" r="3.9"/><circle cx="529.9" cy="386.8" r="3.9"/><circle cx="528.1" cy="387.3" r="3.9"/><circle cx="526.3" cy="386.6" r="3.9"/><circle cx="524.5" cy="386.6" r="3.9"/><circle cx="522.7" cy="387.3" r="3.9"/><circle cx="520.9" cy="386.8" r="3.9"/><circle cx="519.1" cy="387.1" r="3.9"/><circle cx="517.3" cy="386.8" r="3.9"/><circle cx="515.5" cy="386.7" r="3.9"/><circle cx="513.7" cy="387.3" r="3.9"/><circle cx="511.9" cy="386.7" r="3.9"/><circle cx="510.1" cy="386.7" r="3.9"/><circle cx="508.3" cy="387.1" r="3.9"/><circle cx="506.5" cy="387.3" r="3.9"/><circle cx="504.7" cy="386.8" r="3.9"/><circle cx="502.9" cy="387.3" r="3.9"/><circle cx="501.1" cy="386.5" r="3.9"/><circle cx="499.3" cy="387.2" r="3.9"/><circle cx="497.5" cy="386.9" r="3.9"/><circle cx="495.7" cy="386.8" r="3.9"/><circle cx="493.9" cy="386.6" r="3.9"/><circle cx="492.1" cy="386.6" r="3.9"/><circle cx="490.3" cy="387.3" r="3.9"/><circle cx="488.5" cy="386.8" r="3.9"/><circle cx="486.7" cy="386.6" r="3.9"/><circle cx="484.9" cy="386.7" r="3.9"/><circle cx="483.1" cy="387.3" r="3.9"/><circle cx="481.3" cy="387.1" r="3.9"/><circle cx="479.5" cy="386.8" r="3.9"/><circle cx="477.7" cy="387.0" r="3.9"/><circle cx="475.9" cy="386.7" r="3.9"/><circle cx="474.1" cy="387.2" r="3.9"/><circle cx="472.3" cy="387.1" r="3.9"/><circle cx="470.5" cy="387.0" r="3.9"/><circle cx="468.7" cy="386.7" r="3.9"/><circle cx="466.9" cy="386.6" r="3.9"/><circle cx="465.1" cy="387.0" r="3.9"/><circle cx="463.3" cy="386.9" r="3.9"/><circle cx="461.5" cy="387.1" r="3.9"/><circle cx="459.7" cy="386.7" r="3.9"/><circle cx="457.9" cy="386.8" r="3.9"/><circle cx="456.1" cy="386.7" r="3.9"/><circle cx="454.3" cy="387.3" r="3.9"/><circle cx="452.5" cy="387.0" r="3.9"/><circle cx="450.7" cy="387.1" r="3.9"/><circle cx="448.9" cy="386.5" r="3.9"/><circle cx="447.1" cy="386.5" r="3.9"/><circle cx="445.3" cy="386.0" r="3.9"/><circle cx="443.5" cy="386.0" r="3.9"/><circle cx="441.7" cy="385.7" r="3.9"/><circle cx="439.9" cy="386.0" r="3.9"/><circle cx="438.1" cy="385.7" r="3.9"/><circle cx="436.3" cy="385.0" r="3.9"/><circle cx="434.5" cy="384.6" r="3.9"/><circle cx="432.7" cy="384.5" r="3.9"/><circle cx="430.9" cy="384.8" r="3.9"/><circle cx="429.1" cy="384.4" r="3.9"/><circle cx="427.3" cy="383.7" r="3.9"/><circle cx="425.5" cy="383.4" r="3.9"/><circle cx="423.7" cy="382.2" r="3.9"/><circle cx="421.9" cy="382.0" r="3.9"/><circle cx="420.2" cy="381.4" r="3.9"/><circle cx="418.4" cy="381.0" r="3.9"/><circle cx="416.6" cy="380.9" r="3.9"/><circle cx="414.8" cy="380.9" r="3.9"/><circle cx="413.0" cy="380.6" r="3.9"/><circle cx="411.2" cy="379.9" r="3.9"/><circle cx="409.4" cy="380.2" r="3.9"/><circle cx="407.6" cy="380.0" r="3.9"/><circle cx="405.8" cy="380.3" r="3.9"/><circle cx="404.0" cy="380.2" r="3.9"/><circle cx="402.2" cy="380.0" r="3.9"/><circle cx="400.4" cy="379.0" r="3.9"/><circle cx="398.8" cy="378.2" r="3.9"/><circle cx="397.3" cy="377.6" r="3.9"/><circle cx="395.6" cy="376.4" r="3.9"/><circle cx="393.8" cy="376.8" r="3.9"/><circle cx="392.3" cy="377.8" r="3.9"/><circle cx="390.6" cy="378.7" r="3.9"/><circle cx="388.8" cy="379.1" r="3.9"/><circle cx="387.0" cy="379.1" r="3.9"/><circle cx="385.2" cy="378.8" r="3.9"/><circle cx="383.4" cy="379.3" r="3.9"/><circle cx="381.6" cy="378.4" r="3.9"/><circle cx="379.8" cy="378.3" r="3.9"/><circle cx="378.0" cy="378.6" r="3.9"/><circle cx="376.2" cy="378.6" r="3.9"/><circle cx="374.4" cy="379.1" r="3.9"/><circle cx="372.6" cy="378.8" r="3.9"/><circle cx="370.8" cy="379.1" r="3.9"/><circle cx="369.0" cy="379.9" r="3.9"/><circle cx="367.2" cy="379.6" r="3.9"/><circle cx="365.4" cy="380.3" r="3.9"/><circle cx="363.6" cy="379.9" r="3.9"/><circle cx="361.8" cy="380.5" r="3.9"/><circle cx="360.0" cy="380.6" r="3.9"/><circle cx="358.2" cy="380.3" r="3.9"/><circle cx="356.4" cy="380.0" r="3.9"/><circle cx="354.6" cy="380.2" r="3.9"/><circle cx="352.8" cy="380.4" r="3.9"/><circle cx="351.0" cy="380.5" r="3.9"/><circle cx="349.2" cy="380.0" r="3.9"/><circle cx="347.4" cy="380.1" r="3.9"/><circle cx="345.6" cy="379.8" r="3.9"/><circle cx="343.8" cy="380.4" r="3.9"/><circle cx="342.0" cy="379.7" r="3.9"/><circle cx="340.2" cy="380.3" r="3.9"/><circle cx="338.4" cy="379.9" r="3.9"/><circle cx="336.6" cy="380.2" r="3.9"/><circle cx="334.8" cy="379.9" r="3.9"/><circle cx="333.0" cy="380.2" r="3.9"/><circle cx="331.2" cy="380.0" r="3.9"/><circle cx="329.4" cy="380.1" r="3.9"/><circle cx="327.6" cy="380.0" r="3.9"/><circle cx="325.8" cy="380.2" r="3.9"/><circle cx="324.0" cy="380.3" r="3.9"/><circle cx="322.2" cy="380.0" r="3.9"/><circle cx="320.4" cy="380.2" r="3.9"/><circle cx="318.6" cy="380.4" r="3.9"/><circle cx="316.8" cy="380.2" r="3.9"/><circle cx="315.0" cy="380.3" r="3.9"/><circle cx="313.2" cy="380.5" r="3.9"/><circle cx="311.4" cy="380.1" r="3.9"/><circle cx="309.6" cy="380.5" r="3.9"/><circle cx="307.8" cy="380.2" r="3.9"/><circle cx="306.0" cy="380.3" r="3.9"/><circle cx="304.2" cy="380.1" r="3.9"/><circle cx="302.4" cy="380.5" r="3.9"/><circle cx="300.6" cy="380.0" r="3.9"/><circle cx="298.8" cy="379.9" r="3.9"/><circle cx="297.0" cy="380.4" r="3.9"/><circle cx="295.2" cy="380.4" r="3.9"/><circle cx="293.4" cy="380.5" r="3.9"/><circle cx="291.6" cy="380.2" r="3.9"/><circle cx="289.8" cy="380.4" r="3.9"/><circle cx="288.0" cy="380.1" r="3.9"/><circle cx="286.2" cy="379.8" r="3.9"/><circle cx="284.4" cy="380.4" r="3.9"/><circle cx="282.6" cy="379.8" r="3.9"/><circle cx="280.8" cy="379.8" r="3.9"/><circle cx="279.0" cy="379.6" r="3.9"/><circle cx="277.2" cy="379.6" r="3.9"/><circle cx="275.4" cy="380.0" r="3.9"/><circle cx="273.6" cy="379.7" r="3.9"/><circle cx="271.8" cy="380.0" r="3.9"/><circle cx="270.0" cy="379.8" r="3.9"/><circle cx="268.2" cy="380.1" r="3.9"/><circle cx="266.4" cy="379.6" r="3.9"/><circle cx="264.6" cy="379.7" r="3.9"/><circle cx="262.8" cy="379.5" r="3.9"/><circle cx="261.0" cy="379.8" r="3.9"/><circle cx="259.2" cy="379.2" r="3.9"/><circle cx="257.4" cy="379.2" r="3.9"/><circle cx="255.6" cy="379.5" r="3.9"/><circle cx="253.8" cy="379.6" r="3.9"/><circle cx="252.0" cy="379.1" r="3.9"/><circle cx="250.2" cy="379.2" r="3.9"/><circle cx="248.4" cy="379.3" r="3.9"/><circle cx="246.6" cy="378.7" r="3.9"/><circle cx="244.8" cy="378.6" r="3.9"/><circle cx="243.0" cy="378.7" r="3.9"/><circle cx="241.2" cy="379.0" r="3.9"/><circle cx="239.4" cy="378.6" r="3.9"/><circle cx="237.6" cy="378.3" r="3.9"/><circle cx="235.8" cy="378.9" r="3.9"/><circle cx="234.0" cy="378.2" r="3.9"/><circle cx="232.2" cy="378.3" r="3.9"/><circle cx="230.4" cy="378.3" r="3.9"/><circle cx="228.6" cy="378.2" r="3.9"/><circle cx="226.8" cy="377.8" r="3.9"/><circle cx="225.0" cy="378.2" r="3.9"/><circle cx="223.2" cy="377.5" r="3.9"/><circle cx="221.4" cy="377.7" r="3.9"/><circle cx="219.6" cy="377.7" r="3.9"/><circle cx="217.8" cy="377.6" r="3.9"/><circle cx="216.0" cy="377.0" r="3.9"/><circle cx="214.2" cy="376.6" r="3.9"/><circle cx="212.4" cy="376.3" r="3.9"/><circle cx="210.6" cy="376.2" r="3.9"/><circle cx="208.8" cy="376.1" r="3.9"/><circle cx="207.0" cy="375.8" r="3.9"/><circle cx="205.2" cy="375.6" r="3.9"/><circle cx="203.4" cy="375.2" r="3.9"/><circle cx="201.6" cy="374.9" r="3.9"/><circle cx="199.8" cy="375.1" r="3.9"/><circle cx="198.0" cy="374.1" r="3.9"/><circle cx="196.2" cy="373.8" r="3.9"/><circle cx="194.4" cy="373.6" r="3.9"/><circle cx="192.6" cy="372.7" r="3.9"/><circle cx="190.8" cy="372.0" r="3.9"/><circle cx="189.1" cy="371.5" r="3.9"/><circle cx="187.4" cy="371.1" r="3.9"/><circle cx="185.7" cy="370.9" r="3.9"/><circle cx="184.1" cy="369.5" r="3.9"/><circle cx="182.4" cy="369.3" r="3.9"/><circle cx="180.8" cy="367.9" r="3.9"/><circle cx="179.1" cy="367.9" r="3.9"/><circle cx="177.3" cy="367.0" r="3.9"/><circle cx="175.5" cy="367.0" r="3.9"/><circle cx="173.7" cy="366.6" r="3.9"/><circle cx="172.0" cy="366.0" r="3.9"/><circle cx="170.2" cy="365.6" r="3.9"/><circle cx="168.4" cy="364.6" r="3.9"/><circle cx="166.7" cy="364.0" r="3.9"/><circle cx="165.1" cy="363.6" r="3.9"/><circle cx="163.6" cy="362.8" r="3.9"/><circle cx="162.1" cy="361.2" r="3.9"/><circle cx="161.1" cy="360.2" r="3.9"/><circle cx="160.1" cy="358.6" r="3.9"/><circle cx="159.1" cy="356.6" r="3.9"/><circle cx="158.2" cy="355.1" r="3.9"/><circle cx="157.3" cy="353.7" r="3.9"/><circle cx="156.5" cy="351.8" r="3.9"/><circle cx="155.9" cy="350.3" r="3.9"/><circle cx="155.3" cy="348.9" r="3.9"/><circle cx="154.7" cy="346.9" r="3.9"/><circle cx="154.0" cy="345.7" r="3.9"/><circle cx="153.4" cy="343.6" r="3.9"/><circle cx="152.7" cy="341.9" r="3.9"/><circle cx="152.0" cy="340.5" r="3.9"/><circle cx="151.3" cy="338.6" r="3.9"/><circle cx="150.5" cy="337.5" r="3.9"/><circle cx="149.4" cy="336.4" r="3.9"/><circle cx="147.6" cy="336.3" r="3.9"/><circle cx="145.8" cy="336.2" r="3.9"/><circle cx="144.3" cy="337.7" r="3.9"/><circle cx="143.0" cy="339.0" r="3.9"/><circle cx="141.8" cy="340.4" r="3.9"/><circle cx="140.7" cy="341.3" r="3.9"/><circle cx="139.6" cy="343.4" r="3.9"/><circle cx="138.5" cy="344.8" r="3.9"/><circle cx="137.4" cy="345.8" r="3.9"/><circle cx="136.4" cy="347.3" r="3.9"/><circle cx="135.4" cy="348.9" r="3.9"/><circle cx="134.4" cy="350.3" r="3.9"/><circle cx="133.3" cy="352.1" r="3.9"/><circle cx="132.3" cy="353.0" r="3.9"/><circle cx="131.3" cy="354.8" r="3.9"/><circle cx="130.2" cy="356.3" r="3.9"/><circle cx="129.1" cy="357.5" r="3.9"/><circle cx="128.0" cy="359.0" r="3.9"/><circle cx="126.8" cy="360.0" r="3.9"/><circle cx="125.6" cy="361.3" r="3.9"/><circle cx="124.4" cy="362.9" r="3.9"/><circle cx="123.1" cy="364.0" r="3.9"/><circle cx="121.7" cy="365.3" r="3.9"/><circle cx="120.4" cy="366.8" r="3.9"/><circle cx="118.9" cy="367.9" r="3.9"/><circle cx="117.5" cy="369.0" r="3.9"/><circle cx="115.9" cy="369.9" r="3.9"/><circle cx="114.4" cy="370.2" r="3.9"/><circle cx="112.8" cy="371.1" r="3.9"/><circle cx="111.1" cy="371.9" r="3.9"/><circle cx="109.5" cy="372.7" r="3.9"/><circle cx="107.8" cy="373.2" r="3.9"/><circle cx="106.1" cy="373.7" r="3.9"/><circle cx="104.3" cy="374.9" r="3.9"/><circle cx="102.5" cy="375.2" r="3.9"/><circle cx="100.7" cy="375.6" r="3.9"/><circle cx="98.9" cy="376.2" r="3.9"/><circle cx="97.1" cy="376.2" r="3.9"/><circle cx="95.3" cy="377.0" r="3.9"/><circle cx="93.5" cy="377.2" r="3.9"/><circle cx="91.7" cy="377.3" r="3.9"/><circle cx="89.9" cy="377.5" r="3.9"/><circle cx="88.1" cy="377.7" r="3.9"/><circle cx="86.3" cy="378.2" r="3.9"/><circle cx="84.5" cy="378.0" r="3.9"/><circle cx="82.7" cy="378.3" r="3.9"/><circle cx="80.9" cy="378.3" r="3.9"/><circle cx="79.1" cy="379.1" r="3.9"/><circle cx="77.3" cy="378.7" r="3.9"/><circle cx="75.5" cy="379.1" r="3.9"/><circle cx="73.7" cy="379.3" r="3.9"/><circle cx="71.9" cy="379.8" r="3.9"/><circle cx="70.1" cy="379.8" r="3.9"/><circle cx="68.3" cy="379.8" r="3.9"/><circle cx="66.5" cy="380.1" r="3.9"/><circle cx="64.7" cy="379.8" r="3.9"/><circle cx="62.9" cy="380.0" r="3.9"/><circle cx="61.1" cy="380.0" r="3.9"/><circle cx="59.3" cy="380.2" r="3.9"/><circle cx="57.5" cy="380.0" r="3.9"/></g>
<line x1="57" y1="75.0" x2="486" y2="74.0" stroke="#12ec2c" stroke-width="2.5"/>
<line x1="86.3" y1="124.2" x2="488" y2="123.2" stroke="#12ec2c" stroke-width="2.5"/>
<line x1="86.5" y1="184.3" x2="487.5" y2="183.4" stroke="#12ec2c" stroke-width="2.5"/>
<line x1="57" y1="254.2" x2="488" y2="253.1" stroke="#12ec2c" stroke-width="2.5"/>
<line x1="57" y1="327.0" x2="488" y2="326.0" stroke="#12ec2c" stroke-width="2.5"/>
<line x1="57" y1="382.3" x2="488" y2="382.0" stroke="#12ec2c" stroke-width="2.5"/>
<polyline points="57.0,72.72 58.0,72.70 59.0,72.68 60.0,72.65 61.0,72.63 62.0,72.61 63.0,72.59 64.0,72.57 65.0,72.55 66.0,72.52 67.0,72.50 68.0,72.47 69.0,72.45 70.0,72.42 71.0,72.40 72.0,72.37 73.0,72.35 74.0,72.32 75.0,72.29 76.0,72.26 77.0,72.23 78.0,72.20 79.0,72.17 80.0,72.14 81.0,72.10 82.0,72.07 83.0,72.03 84.0,72.00 85.0,71.96 86.0,71.92 87.0,71.88 88.0,71.84 89.0,71.80 90.0,71.76 91.0,71.71 92.0,71.67 93.0,71.62 94.0,71.57 95.0,71.52 96.0,71.47 97.0,71.41 98.0,71.35 99.0,71.29 100.0,71.23 101.0,71.16 102.0,71.10 103.0,71.03 104.0,70.95 105.0,70.87 106.0,70.79 107.0,70.70 108.0,70.61 109.0,70.52 110.0,70.41 111.0,70.31 112.0,70.19 113.0,70.07 114.0,69.94 115.0,69.80 116.0,69.66 117.0,69.50 118.0,69.33 119.0,69.14 120.0,68.95 121.0,68.73 122.0,68.50 123.0,68.24 124.0,67.96 125.0,67.66 126.0,67.32 127.0,66.95 128.0,66.53 129.0,66.06 130.0,65.54 131.0,64.95 132.0,64.28 133.0,63.53 134.0,62.67 135.0,61.70 136.0,60.59 137.0,59.33 138.0,57.91 139.0,56.29 140.0,54.48 141.0,52.45 142.0,50.19 143.0,47.71 144.0,45.02 145.0,42.18 146.0,39.25 147.0,36.35 148.0,33.65 149.0,31.34 150.0,29.64 151.0,28.72 152.0,28.66 153.0,29.27 154.0,30.46 155.0,32.13 156.0,34.18 157.0,36.47 158.0,38.89 159.0,41.34 160.0,43.76 161.0,46.08 162.0,48.28 163.0,50.32 164.0,52.21 165.0,53.95 166.0,55.53 167.0,56.96 168.0,58.25 169.0,59.42 170.0,60.47 171.0,61.41 172.0,62.26 173.0,63.02 174.0,63.71 175.0,64.32 176.0,64.88 177.0,65.38 178.0,65.83 179.0,66.24 180.0,66.61 181.0,66.95 182.0,67.26 183.0,67.55 184.0,67.81 185.0,68.06 186.0,68.28 187.0,68.49 188.0,68.68 189.0,68.86 190.0,69.03 191.0,69.19 192.0,69.34 193.0,69.47 194.0,69.61 195.0,69.73 196.0,69.85 197.0,69.96 198.0,70.06 199.0,70.16 200.0,70.25 201.0,70.34 202.0,70.43 203.0,70.51 204.0,70.59 205.0,70.66 206.0,70.73 207.0,70.80 208.0,70.86 209.0,70.93 210.0,70.99 211.0,71.04 212.0,71.10 213.0,71.15 214.0,71.20 215.0,71.25 216.0,71.30 217.0,71.34 218.0,71.39 219.0,71.43 220.0,71.47 221.0,71.51 222.0,71.55 223.0,71.58 224.0,71.62 225.0,71.65 226.0,71.69 227.0,71.72 228.0,71.75 229.0,71.78 230.0,71.81 231.0,71.84 232.0,71.87 233.0,71.89 234.0,71.92 235.0,71.95 236.0,71.97 237.0,72.00 238.0,72.02 239.0,72.04 240.0,72.06 241.0,72.08 242.0,72.10 243.0,72.13 244.0,72.14 245.0,72.16 246.0,72.18 247.0,72.20 248.0,72.22 249.0,72.23 250.0,72.25 251.0,72.27 252.0,72.28 253.0,72.30 254.0,72.31 255.0,72.33 256.0,72.34 257.0,72.35 258.0,72.37 259.0,72.38 260.0,72.39 261.0,72.40 262.0,72.41 263.0,72.43 264.0,72.44 265.0,72.45 266.0,72.46 267.0,72.47 268.0,72.48 269.0,72.48 270.0,72.49 271.0,72.50 272.0,72.51 273.0,72.52 274.0,72.53 275.0,72.53 276.0,72.54 277.0,72.55 278.0,72.55 279.0,72.56 280.0,72.56 281.0,72.57 282.0,72.57 283.0,72.58 284.0,72.58 285.0,72.59 286.0,72.59 287.0,72.59 288.0,72.60 289.0,72.60 290.0,72.60 291.0,72.60 292.0,72.61 293.0,72.61 294.0,72.61 295.0,72.61 296.0,72.61 297.0,72.61 298.0,72.61 299.0,72.61 300.0,72.61 301.0,72.61 302.0,72.61 303.0,72.61 304.0,72.60 305.0,72.60 306.0,72.60 307.0,72.60 308.0,72.59 309.0,72.59 310.0,72.58 311.0,72.58 312.0,72.57 313.0,72.57 314.0,72.56 315.0,72.56 316.0,72.55 317.0,72.54 318.0,72.53 319.0,72.53 320.0,72.52 321.0,72.51 322.0,72.50 323.0,72.49 324.0,72.47 325.0,72.46 326.0,72.45 327.0,72.44 328.0,72.42 329.0,72.41 330.0,72.39 331.0,72.38 332.0,72.36 333.0,72.34 334.0,72.32 335.0,72.30 336.0,72.28 337.0,72.26 338.0,72.24 339.0,72.21 340.0,72.19 341.0,72.16 342.0,72.14 343.0,72.11 344.0,72.08 345.0,72.05 346.0,72.01 347.0,71.98 348.0,71.94 349.0,71.90 350.0,71.86 351.0,71.82 352.0,71.77 353.0,71.73 354.0,71.68 355.0,71.63 356.0,71.57 357.0,71.51 358.0,71.45 359.0,71.39 360.0,71.32 361.0,71.25 362.0,71.18 363.0,71.10 364.0,71.02 365.0,70.93 366.0,70.84 367.0,70.74 368.0,70.64 369.0,70.53 370.0,70.41 371.0,70.29 372.0,70.17 373.0,70.03 374.0,69.89 375.0,69.74 376.0,69.58 377.0,69.41 378.0,69.24 379.0,69.05 380.0,68.86 381.0,68.65 382.0,68.44 383.0,68.22 384.0,67.98 385.0,67.74 386.0,67.48 387.0,67.22 388.0,66.95 389.0,66.68 390.0,66.39 391.0,66.11 392.0,65.82 393.0,65.54 394.0,65.26 395.0,64.99 396.0,64.73 397.0,64.49 398.0,64.26 399.0,64.06 400.0,63.89 401.0,63.75 402.0,63.65 403.0,63.59 404.0,63.56 405.0,63.57 406.0,63.63 407.0,63.72 408.0,63.85 409.0,64.01 410.0,64.20 411.0,64.41 412.0,64.65 413.0,64.91 414.0,65.18 415.0,65.46 416.0,65.74 417.0,66.03 418.0,66.32 419.0,66.60 420.0,66.88 421.0,67.16 422.0,67.43 423.0,67.68 424.0,67.93 425.0,68.17 426.0,68.40 427.0,68.62 428.0,68.83 429.0,69.03 430.0,69.23 431.0,69.41 432.0,69.58 433.0,69.74 434.0,69.90 435.0,70.05 436.0,70.18 437.0,70.32 438.0,70.44 439.0,70.56 440.0,70.67 441.0,70.78 442.0,70.88 443.0,70.98 444.0,71.07 445.0,71.16 446.0,71.24 447.0,71.32 448.0,71.39 449.0,71.46 450.0,71.53 451.0,71.60 452.0,71.66 453.0,71.72 454.0,71.77 455.0,71.83 456.0,71.88 457.0,71.92 458.0,71.97 459.0,72.02 460.0,72.06 461.0,72.10 462.0,72.14 463.0,72.17 464.0,72.21 465.0,72.24 466.0,72.28 467.0,72.31 468.0,72.34 469.0,72.37 470.0,72.39 471.0,72.42 472.0,72.45 473.0,72.47 474.0,72.50 475.0,72.52 476.0,72.54 477.0,72.56 478.0,72.58 479.0,72.60 480.0,72.62 481.0,72.64 482.0,72.66 483.0,72.67 484.0,72.69 485.0,72.71 486.0,72.72 487.0,72.74 488.0,72.75 489.0,72.76 490.0,72.78 491.0,72.79 492.0,72.80 493.0,72.82 494.0,72.83 495.0,72.84 496.0,72.85 497.0,72.86 498.0,72.87 499.0,72.88 500.0,72.89 501.0,72.90 502.0,72.91 503.0,72.92 504.0,72.93 505.0,72.94 506.0,72.94 507.0,72.95 508.0,72.96 509.0,72.97 510.0,72.97 511.0,72.98 512.0,72.99 513.0,72.99 514.0,73.00 515.0,73.01 516.0,73.01 517.0,73.02 518.0,73.02 519.0,73.03 520.0,73.04 521.0,73.04 522.0,73.05 523.0,73.05 524.0,73.06 525.0,73.06 526.0,73.07 527.0,73.07 528.0,73.07 529.0,73.08 530.0,73.08 531.0,73.09 532.0,73.09 533.0,73.09 534.0,73.10 535.0,73.10 536.0,73.11 537.0,73.11 538.0,73.11 539.0,73.12 540.0,73.12" fill="none" stroke="#8b0a0a" stroke-width="2.7" stroke-linejoin="round"/>
<polyline points="86.3,122.57 87.3,122.53 88.3,122.48 89.3,122.43 90.3,122.39 91.3,122.34 92.3,122.29 93.3,122.24 94.3,122.19 95.3,122.14 96.3,122.08 97.3,122.03 98.3,121.97 99.3,121.92 100.3,121.86 101.3,121.79 102.3,121.73 103.3,121.67 104.3,121.60 105.3,121.53 106.3,121.46 107.3,121.38 108.3,121.30 109.3,121.22 110.3,121.14 111.3,121.05 112.3,120.95 113.3,120.85 114.3,120.75 115.3,120.64 116.3,120.52 117.3,120.40 118.3,120.27 119.3,120.13 120.3,119.98 121.3,119.82 122.3,119.64 123.3,119.45 124.3,119.25 125.3,119.02 126.3,118.78 127.3,118.51 128.3,118.21 129.3,117.88 130.3,117.51 131.3,117.10 132.3,116.63 133.3,116.10 134.3,115.49 135.3,114.79 136.3,113.98 137.3,113.05 138.3,111.97 139.3,110.73 140.3,109.29 141.3,107.64 142.3,105.76 143.3,103.61 144.3,101.20 145.3,98.53 146.3,95.63 147.3,92.57 148.3,89.48 149.3,86.56 150.3,84.05 151.3,82.23 152.3,81.34 153.3,81.48 154.3,82.56 155.3,84.43 156.3,86.87 157.3,89.64 158.3,92.55 159.3,95.42 160.3,98.16 161.3,100.69 162.3,103.00 163.3,105.06 164.3,106.89 165.3,108.51 166.3,109.92 167.3,111.16 168.3,112.23 169.3,113.17 170.3,113.98 171.3,114.69 172.3,115.31 173.3,115.85 174.3,116.32 175.3,116.74 176.3,117.11 177.3,117.44 178.3,117.74 179.3,118.01 180.3,118.25 181.3,118.47 182.3,118.66 183.3,118.85 184.3,119.01 185.3,119.17 186.3,119.31 187.3,119.44 188.3,119.56 189.3,119.67 190.3,119.78 191.3,119.87 192.3,119.97 193.3,120.05 194.3,120.13 195.3,120.21 196.3,120.28 197.3,120.35 198.3,120.41 199.3,120.47 200.3,120.53 201.3,120.58 202.3,120.63 203.3,120.68 204.3,120.73 205.3,120.78 206.3,120.82 207.3,120.86 208.3,120.90 209.3,120.94 210.3,120.97 211.3,121.01 212.3,121.04 213.3,121.07 214.3,121.11 215.3,121.14 216.3,121.17 217.3,121.19 218.3,121.22 219.3,121.25 220.3,121.27 221.3,121.30 222.3,121.32 223.3,121.35 224.3,121.37 225.3,121.39 226.3,121.41 227.3,121.43 228.3,121.45 229.3,121.47 230.3,121.49 231.3,121.51 232.3,121.53 233.3,121.55 234.3,121.56 235.3,121.58 236.3,121.59 237.3,121.61 238.3,121.63 239.3,121.64 240.3,121.65 241.3,121.67 242.3,121.68 243.3,121.70 244.3,121.71 245.3,121.72 246.3,121.73 247.3,121.74 248.3,121.76 249.3,121.77 250.3,121.78 251.3,121.79 252.3,121.80 253.3,121.81 254.3,121.81 255.3,121.82 256.3,121.83 257.3,121.84 258.3,121.85 259.3,121.85 260.3,121.86 261.3,121.87 262.3,121.87 263.3,121.88 264.3,121.89 265.3,121.89 266.3,121.90 267.3,121.90 268.3,121.90 269.3,121.91 270.3,121.91 271.3,121.91 272.3,121.92 273.3,121.92 274.3,121.92 275.3,121.92 276.3,121.92 277.3,121.92 278.3,121.92 279.3,121.92 280.3,121.92 281.3,121.92 282.3,121.92 283.3,121.92 284.3,121.92 285.3,121.92 286.3,121.91 287.3,121.91 288.3,121.91 289.3,121.90 290.3,121.90 291.3,121.89 292.3,121.89 293.3,121.88 294.3,121.87 295.3,121.87 296.3,121.86 297.3,121.85 298.3,121.84 299.3,121.83 300.3,121.82 301.3,121.81 302.3,121.80 303.3,121.79 304.3,121.78 305.3,121.76 306.3,121.75 307.3,121.74 308.3,121.72 309.3,121.71 310.3,121.69 311.3,121.68 312.3,121.66 313.3,121.64 314.3,121.62 315.3,121.60 316.3,121.58 317.3,121.56 318.3,121.54 319.3,121.52 320.3,121.49 321.3,121.47 322.3,121.44 323.3,121.41 324.3,121.39 325.3,121.36 326.3,121.33 327.3,121.30 328.3,121.27 329.3,121.23 330.3,121.20 331.3,121.16 332.3,121.13 333.3,121.09 334.3,121.05 335.3,121.01 336.3,120.96 337.3,120.92 338.3,120.87 339.3,120.83 340.3,120.78 341.3,120.73 342.3,120.68 343.3,120.62 344.3,120.57 345.3,120.51 346.3,120.45 347.3,120.39 348.3,120.32 349.3,120.26 350.3,120.19 351.3,120.12 352.3,120.04 353.3,119.97 354.3,119.89 355.3,119.81 356.3,119.73 357.3,119.64 358.3,119.55 359.3,119.46 360.3,119.37 361.3,119.27 362.3,119.17 363.3,119.07 364.3,118.96 365.3,118.86 366.3,118.75 367.3,118.63 368.3,118.52 369.3,118.40 370.3,118.27 371.3,118.15 372.3,118.02 373.3,117.90 374.3,117.76 375.3,117.63 376.3,117.50 377.3,117.36 378.3,117.23 379.3,117.09 380.3,116.95 381.3,116.82 382.3,116.68 383.3,116.55 384.3,116.42 385.3,116.29 386.3,116.16 387.3,116.04 388.3,115.93 389.3,115.81 390.3,115.71 391.3,115.61 392.3,115.52 393.3,115.43 394.3,115.36 395.3,115.29 396.3,115.24 397.3,115.19 398.3,115.16 399.3,115.13 400.3,115.12 401.3,115.11 402.3,115.12 403.3,115.14 404.3,115.17 405.3,115.21 406.3,115.26 407.3,115.32 408.3,115.39 409.3,115.47 410.3,115.56 411.3,115.65 412.3,115.75 413.3,115.86 414.3,115.97 415.3,116.09 416.3,116.21 417.3,116.33 418.3,116.46 419.3,116.59 420.3,116.72 421.3,116.85 422.3,116.98 423.3,117.11 424.3,117.25 425.3,117.38 426.3,117.51 427.3,117.64 428.3,117.76 429.3,117.89 430.3,118.01 431.3,118.13 432.3,118.25 433.3,118.36 434.3,118.47 435.3,118.58 436.3,118.69 437.3,118.80 438.3,118.90 439.3,119.00 440.3,119.09 441.3,119.19 442.3,119.28 443.3,119.36 444.3,119.45 445.3,119.53 446.3,119.61 447.3,119.69 448.3,119.76 449.3,119.84 450.3,119.90 451.3,119.97 452.3,120.04 453.3,120.10 454.3,120.16 455.3,120.22 456.3,120.28 457.3,120.33 458.3,120.39 459.3,120.44 460.3,120.49 461.3,120.54 462.3,120.58 463.3,120.63 464.3,120.67 465.3,120.71 466.3,120.75 467.3,120.79 468.3,120.83 469.3,120.86 470.3,120.90 471.3,120.93 472.3,120.96 473.3,121.00 474.3,121.03 475.3,121.06 476.3,121.08 477.3,121.11 478.3,121.14 479.3,121.16 480.3,121.19 481.3,121.21 482.3,121.23 483.3,121.26 484.3,121.28 485.3,121.30 486.3,121.32 487.3,121.34 488.3,121.36" fill="none" stroke="#8b0a0a" stroke-width="2.7" stroke-linejoin="round"/>
<polyline points="86.5,182.72 87.5,182.65 88.5,182.58 89.5,182.50 90.5,182.43 91.5,182.35 92.5,182.27 93.5,182.20 94.5,182.12 95.5,182.03 96.5,181.95 97.5,181.87 98.5,181.78 99.5,181.69 100.5,181.60 101.5,181.51 102.5,181.41 103.5,181.31 104.5,181.21 105.5,181.11 106.5,181.00 107.5,180.89 108.5,180.77 109.5,180.65 110.5,180.53 111.5,180.40 112.5,180.26 113.5,180.12 114.5,179.97 115.5,179.81 116.5,179.64 117.5,179.46 118.5,179.27 119.5,179.07 120.5,178.86 121.5,178.62 122.5,178.37 123.5,178.10 124.5,177.80 125.5,177.48 126.5,177.12 127.5,176.72 128.5,176.28 129.5,175.77 130.5,175.20 131.5,174.55 132.5,173.80 133.5,172.94 134.5,171.94 135.5,170.78 136.5,169.43 137.5,167.87 138.5,166.07 139.5,163.99 140.5,161.62 141.5,158.94 142.5,155.94 143.5,152.63 144.5,149.04 145.5,145.27 146.5,141.45 147.5,137.79 148.5,134.57 149.5,132.12 150.5,130.72 151.5,130.53 152.5,131.29 153.5,132.85 154.5,135.07 155.5,137.78 156.5,140.78 157.5,143.91 158.5,147.05 159.5,150.11 160.5,153.00 161.5,155.71 162.5,158.20 163.5,160.46 164.5,162.51 165.5,164.36 166.5,166.00 167.5,167.46 168.5,168.75 169.5,169.90 170.5,170.90 171.5,171.79 172.5,172.57 173.5,173.27 174.5,173.88 175.5,174.42 176.5,174.90 177.5,175.33 178.5,175.72 179.5,176.07 180.5,176.39 181.5,176.68 182.5,176.94 183.5,177.18 184.5,177.41 185.5,177.61 186.5,177.81 187.5,177.99 188.5,178.15 189.5,178.31 190.5,178.46 191.5,178.60 192.5,178.73 193.5,178.85 194.5,178.97 195.5,179.08 196.5,179.19 197.5,179.29 198.5,179.39 199.5,179.48 200.5,179.57 201.5,179.65 202.5,179.73 203.5,179.81 204.5,179.89 205.5,179.96 206.5,180.03 207.5,180.10 208.5,180.16 209.5,180.23 210.5,180.29 211.5,180.35 212.5,180.40 213.5,180.46 214.5,180.52 215.5,180.57 216.5,180.62 217.5,180.67 218.5,180.72 219.5,180.77 220.5,180.82 221.5,180.86 222.5,180.91 223.5,180.95 224.5,180.99 225.5,181.03 226.5,181.08 227.5,181.12 228.5,181.16 229.5,181.19 230.5,181.23 231.5,181.27 232.5,181.30 233.5,181.34 234.5,181.38 235.5,181.41 236.5,181.44 237.5,181.48 238.5,181.51 239.5,181.54 240.5,181.57 241.5,181.60 242.5,181.63 243.5,181.66 244.5,181.69 245.5,181.72 246.5,181.75 247.5,181.77 248.5,181.80 249.5,181.83 250.5,181.85 251.5,181.88 252.5,181.90 253.5,181.93 254.5,181.95 255.5,181.97 256.5,182.00 257.5,182.02 258.5,182.04 259.5,182.06 260.5,182.08 261.5,182.10 262.5,182.12 263.5,182.14 264.5,182.16 265.5,182.18 266.5,182.20 267.5,182.21 268.5,182.23 269.5,182.25 270.5,182.26 271.5,182.28 272.5,182.30 273.5,182.31 274.5,182.32 275.5,182.34 276.5,182.35 277.5,182.37 278.5,182.38 279.5,182.39 280.5,182.40 281.5,182.41 282.5,182.43 283.5,182.44 284.5,182.45 285.5,182.46 286.5,182.46 287.5,182.47 288.5,182.48 289.5,182.49 290.5,182.50 291.5,182.50 292.5,182.51 293.5,182.52 294.5,182.52 295.5,182.53 296.5,182.53 297.5,182.54 298.5,182.54 299.5,182.54 300.5,182.55 301.5,182.55 302.5,182.55 303.5,182.55 304.5,182.55 305.5,182.55 306.5,182.55 307.5,182.55 308.5,182.55 309.5,182.55 310.5,182.55 311.5,182.54 312.5,182.54 313.5,182.53 314.5,182.53 315.5,182.52 316.5,182.52 317.5,182.51 318.5,182.50 319.5,182.50 320.5,182.49 321.5,182.48 322.5,182.47 323.5,182.46 324.5,182.44 325.5,182.43 326.5,182.42 327.5,182.40 328.5,182.39 329.5,182.37 330.5,182.36 331.5,182.34 332.5,182.32 333.5,182.30 334.5,182.28 335.5,182.25 336.5,182.23 337.5,182.20 338.5,182.18 339.5,182.15 340.5,182.12 341.5,182.09 342.5,182.06 343.5,182.02 344.5,181.99 345.5,181.95 346.5,181.91 347.5,181.87 348.5,181.83 349.5,181.78 350.5,181.74 351.5,181.69 352.5,181.63 353.5,181.58 354.5,181.52 355.5,181.46 356.5,181.40 357.5,181.33 358.5,181.26 359.5,181.18 360.5,181.10 361.5,181.02 362.5,180.94 363.5,180.84 364.5,180.75 365.5,180.65 366.5,180.54 367.5,180.43 368.5,180.31 369.5,180.19 370.5,180.06 371.5,179.92 372.5,179.78 373.5,179.62 374.5,179.46 375.5,179.30 376.5,179.12 377.5,178.94 378.5,178.74 379.5,178.54 380.5,178.33 381.5,178.11 382.5,177.88 383.5,177.65 384.5,177.40 385.5,177.15 386.5,176.90 387.5,176.64 388.5,176.37 389.5,176.10 390.5,175.84 391.5,175.58 392.5,175.32 393.5,175.07 394.5,174.83 395.5,174.61 396.5,174.41 397.5,174.23 398.5,174.08 399.5,173.95 400.5,173.86 401.5,173.80 402.5,173.77 403.5,173.78 404.5,173.82 405.5,173.89 406.5,174.00 407.5,174.14 408.5,174.30 409.5,174.49 410.5,174.69 411.5,174.91 412.5,175.15 413.5,175.40 414.5,175.65 415.5,175.91 416.5,176.16 417.5,176.42 418.5,176.68 419.5,176.93 420.5,177.17 421.5,177.41 422.5,177.64 423.5,177.86 424.5,178.07 425.5,178.28 426.5,178.48 427.5,178.66 428.5,178.84 429.5,179.01 430.5,179.17 431.5,179.33 432.5,179.48 433.5,179.61 434.5,179.75 435.5,179.87 436.5,179.99 437.5,180.10 438.5,180.21 439.5,180.31 440.5,180.40 441.5,180.49 442.5,180.58 443.5,180.66 444.5,180.74 445.5,180.81 446.5,180.88 447.5,180.94 448.5,181.00 449.5,181.06 450.5,181.12 451.5,181.17 452.5,181.22 453.5,181.27 454.5,181.31 455.5,181.35 456.5,181.39 457.5,181.43 458.5,181.47 459.5,181.50 460.5,181.53 461.5,181.56 462.5,181.59 463.5,181.62 464.5,181.65 465.5,181.67 466.5,181.69 467.5,181.72 468.5,181.74 469.5,181.76 470.5,181.78 471.5,181.79 472.5,181.81 473.5,181.82 474.5,181.84 475.5,181.85 476.5,181.87 477.5,181.88 478.5,181.89 479.5,181.90 480.5,181.91 481.5,181.92 482.5,181.93 483.5,181.94 484.5,181.94 485.5,181.95 486.5,181.96 487.5,181.96" fill="none" stroke="#8b0a0a" stroke-width="2.7" stroke-linejoin="round"/>
<polyline points="57.0,252.08 58.0,252.06 59.0,252.04 60.0,252.02 61.0,252.00 62.0,251.98 63.0,251.95 64.0,251.93 65.0,251.91 66.0,251.89 67.0,251.86 68.0,251.84 69.0,251.81 70.0,251.79 71.0,251.76 72.0,251.74 73.0,251.71 74.0,251.68 75.0,251.66 76.0,251.63 77.0,251.60 78.0,251.57 79.0,251.54 80.0,251.51 81.0,251.47 82.0,251.44 83.0,251.40 84.0,251.37 85.0,251.33 86.0,251.30 87.0,251.26 88.0,251.22 89.0,251.17 90.0,251.13 91.0,251.09 92.0,251.04 93.0,250.99 94.0,250.94 95.0,250.89 96.0,250.84 97.0,250.78 98.0,250.72 99.0,250.66 100.0,250.59 101.0,250.53 102.0,250.45 103.0,250.38 104.0,250.30 105.0,250.22 106.0,250.13 107.0,250.04 108.0,249.94 109.0,249.84 110.0,249.72 111.0,249.61 112.0,249.48 113.0,249.35 114.0,249.20 115.0,249.05 116.0,248.88 117.0,248.69 118.0,248.50 119.0,248.28 120.0,248.04 121.0,247.77 122.0,247.47 123.0,247.14 124.0,246.76 125.0,246.33 126.0,245.83 127.0,245.27 128.0,244.62 129.0,243.87 130.0,243.00 131.0,242.00 132.0,240.85 133.0,239.53 134.0,238.02 135.0,236.31 136.0,234.38 137.0,232.23 138.0,229.83 139.0,227.21 140.0,224.36 141.0,221.30 142.0,218.06 143.0,214.70 144.0,211.28 145.0,207.91 146.0,204.71 147.0,201.84 148.0,199.47 149.0,197.75 150.0,196.83 151.0,196.77 152.0,197.52 153.0,198.99 154.0,201.08 155.0,203.67 156.0,206.59 157.0,209.73 158.0,212.95 159.0,216.17 160.0,219.30 161.0,222.31 162.0,225.15 163.0,227.79 164.0,230.23 165.0,232.46 166.0,234.48 167.0,236.29 168.0,237.91 169.0,239.35 170.0,240.62 171.0,241.73 172.0,242.71 173.0,243.57 174.0,244.31 175.0,244.96 176.0,245.53 177.0,246.03 178.0,246.46 179.0,246.85 180.0,247.19 181.0,247.50 182.0,247.77 183.0,248.02 184.0,248.24 185.0,248.44 186.0,248.63 187.0,248.80 188.0,248.96 189.0,249.11 190.0,249.25 191.0,249.38 192.0,249.50 193.0,249.61 194.0,249.71 195.0,249.81 196.0,249.91 197.0,250.00 198.0,250.08 199.0,250.16 200.0,250.24 201.0,250.31 202.0,250.38 203.0,250.44 204.0,250.51 205.0,250.57 206.0,250.62 207.0,250.68 208.0,250.73 209.0,250.78 210.0,250.83 211.0,250.88 212.0,250.92 213.0,250.96 214.0,251.00 215.0,251.04 216.0,251.08 217.0,251.12 218.0,251.16 219.0,251.19 220.0,251.22 221.0,251.26 222.0,251.29 223.0,251.32 224.0,251.35 225.0,251.38 226.0,251.41 227.0,251.43 228.0,251.46 229.0,251.49 230.0,251.51 231.0,251.54 232.0,251.56 233.0,251.58 234.0,251.61 235.0,251.63 236.0,251.65 237.0,251.67 238.0,251.69 239.0,251.71 240.0,251.73 241.0,251.75 242.0,251.77 243.0,251.79 244.0,251.81 245.0,251.83 246.0,251.84 247.0,251.86 248.0,251.88 249.0,251.89 250.0,251.91 251.0,251.93 252.0,251.94 253.0,251.96 254.0,251.97 255.0,251.99 256.0,252.00 257.0,252.02 258.0,252.03 259.0,252.04 260.0,252.06 261.0,252.07 262.0,252.08 263.0,252.09 264.0,252.11 265.0,252.12 266.0,252.13 267.0,252.14 268.0,252.15 269.0,252.16 270.0,252.17 271.0,252.19 272.0,252.20 273.0,252.21 274.0,252.22 275.0,252.22 276.0,252.23 277.0,252.24 278.0,252.25 279.0,252.26 280.0,252.27 281.0,252.28 282.0,252.29 283.0,252.29 284.0,252.30 285.0,252.31 286.0,252.32 287.0,252.32 288.0,252.33 289.0,252.34 290.0,252.34 291.0,252.35 292.0,252.35 293.0,252.36 294.0,252.37 295.0,252.37 296.0,252.38 297.0,252.38 298.0,252.38 299.0,252.39 300.0,252.39 301.0,252.40 302.0,252.40 303.0,252.40 304.0,252.40 305.0,252.41 306.0,252.41 307.0,252.41 308.0,252.41 309.0,252.41 310.0,252.41 311.0,252.41 312.0,252.42 313.0,252.41 314.0,252.41 315.0,252.41 316.0,252.41 317.0,252.41 318.0,252.41 319.0,252.41 320.0,252.40 321.0,252.40 322.0,252.40 323.0,252.39 324.0,252.39 325.0,252.38 326.0,252.38 327.0,252.37 328.0,252.36 329.0,252.36 330.0,252.35 331.0,252.34 332.0,252.33 333.0,252.32 334.0,252.31 335.0,252.30 336.0,252.28 337.0,252.27 338.0,252.26 339.0,252.24 340.0,252.22 341.0,252.21 342.0,252.19 343.0,252.17 344.0,252.15 345.0,252.13 346.0,252.10 347.0,252.08 348.0,252.05 349.0,252.02 350.0,251.99 351.0,251.96 352.0,251.93 353.0,251.89 354.0,251.85 355.0,251.81 356.0,251.77 357.0,251.73 358.0,251.68 359.0,251.63 360.0,251.57 361.0,251.51 362.0,251.45 363.0,251.39 364.0,251.32 365.0,251.24 366.0,251.16 367.0,251.08 368.0,250.99 369.0,250.89 370.0,250.79 371.0,250.68 372.0,250.56 373.0,250.44 374.0,250.30 375.0,250.16 376.0,250.00 377.0,249.84 378.0,249.66 379.0,249.47 380.0,249.27 381.0,249.05 382.0,248.82 383.0,248.57 384.0,248.31 385.0,248.02 386.0,247.73 387.0,247.41 388.0,247.08 389.0,246.73 390.0,246.36 391.0,245.98 392.0,245.60 393.0,245.20 394.0,244.80 395.0,244.41 396.0,244.03 397.0,243.67 398.0,243.33 399.0,243.03 400.0,242.78 401.0,242.58 402.0,242.44 403.0,242.37 404.0,242.36 405.0,242.43 406.0,242.56 407.0,242.75 408.0,243.00 409.0,243.30 410.0,243.64 411.0,244.00 412.0,244.39 413.0,244.79 414.0,245.19 415.0,245.59 416.0,245.99 417.0,246.38 418.0,246.75 419.0,247.11 420.0,247.45 421.0,247.78 422.0,248.09 423.0,248.38 424.0,248.65 425.0,248.91 426.0,249.15 427.0,249.38 428.0,249.59 429.0,249.79 430.0,249.98 431.0,250.15 432.0,250.32 433.0,250.47 434.0,250.61 435.0,250.75 436.0,250.88 437.0,250.99 438.0,251.11 439.0,251.21 440.0,251.31 441.0,251.40 442.0,251.49 443.0,251.57 444.0,251.65 445.0,251.72 446.0,251.79 447.0,251.86 448.0,251.92 449.0,251.98 450.0,252.04 451.0,252.09 452.0,252.14 453.0,252.19 454.0,252.24 455.0,252.28 456.0,252.32 457.0,252.36 458.0,252.40 459.0,252.43 460.0,252.47 461.0,252.50 462.0,252.53 463.0,252.56 464.0,252.59 465.0,252.62 466.0,252.65 467.0,252.67 468.0,252.70 469.0,252.72 470.0,252.74 471.0,252.77 472.0,252.79 473.0,252.81 474.0,252.83 475.0,252.85 476.0,252.86 477.0,252.88 478.0,252.90 479.0,252.91 480.0,252.93 481.0,252.95 482.0,252.96 483.0,252.97 484.0,252.99 485.0,253.00 486.0,253.01 487.0,253.03 488.0,253.04 489.0,253.05 490.0,253.06 491.0,253.07 492.0,253.08 493.0,253.09 494.0,253.10 495.0,253.11 496.0,253.12 497.0,253.13 498.0,253.14 499.0,253.15 500.0,253.16 501.0,253.17 502.0,253.18 503.0,253.18 504.0,253.19 505.0,253.20 506.0,253.21 507.0,253.21 508.0,253.22 509.0,253.23 510.0,253.23 511.0,253.24 512.0,253.25 513.0,253.25 514.0,253.26 515.0,253.27 516.0,253.27 517.0,253.28 518.0,253.28 519.0,253.29 520.0,253.29 521.0,253.30 522.0,253.30 523.0,253.31 524.0,253.31 525.0,253.32 526.0,253.32 527.0,253.33 528.0,253.33 529.0,253.34 530.0,253.34 531.0,253.34 532.0,253.35 533.0,253.35 534.0,253.36 535.0,253.36 536.0,253.36 537.0,253.37 538.0,253.37 539.0,253.38 540.0,253.38" fill="none" stroke="#8b0a0a" stroke-width="2.7" stroke-linejoin="round"/>
<polyline points="57.0,325.47 58.0,325.45 59.0,325.42 60.0,325.39 61.0,325.36 62.0,325.33 63.0,325.30 64.0,325.27 65.0,325.24 66.0,325.20 67.0,325.17 68.0,325.14 69.0,325.10 70.0,325.07 71.0,325.04 72.0,325.00 73.0,324.96 74.0,324.93 75.0,324.89 76.0,324.85 77.0,324.81 78.0,324.77 79.0,324.73 80.0,324.69 81.0,324.65 82.0,324.61 83.0,324.56 84.0,324.52 85.0,324.47 86.0,324.42 87.0,324.37 88.0,324.32 89.0,324.27 90.0,324.21 91.0,324.16 92.0,324.10 93.0,324.04 94.0,323.98 95.0,323.92 96.0,323.85 97.0,323.79 98.0,323.72 99.0,323.64 100.0,323.57 101.0,323.49 102.0,323.40 103.0,323.31 104.0,323.22 105.0,323.13 106.0,323.02 107.0,322.92 108.0,322.80 109.0,322.68 110.0,322.56 111.0,322.42 112.0,322.28 113.0,322.12 114.0,321.96 115.0,321.77 116.0,321.58 117.0,321.36 118.0,321.12 119.0,320.85 120.0,320.56 121.0,320.22 122.0,319.83 123.0,319.39 124.0,318.87 125.0,318.27 126.0,317.57 127.0,316.75 128.0,315.79 129.0,314.67 130.0,313.36 131.0,311.85 132.0,310.10 133.0,308.11 134.0,305.84 135.0,303.30 136.0,300.47 137.0,297.37 138.0,294.00 139.0,290.39 140.0,286.60 141.0,282.67 142.0,278.71 143.0,274.82 144.0,271.17 145.0,267.91 146.0,265.24 147.0,263.33 148.0,262.33 149.0,262.31 150.0,263.16 151.0,264.81 152.0,267.15 153.0,270.04 154.0,273.32 155.0,276.85 156.0,280.51 157.0,284.19 158.0,287.80 159.0,291.28 160.0,294.58 161.0,297.67 162.0,300.53 163.0,303.15 164.0,305.52 165.0,307.66 166.0,309.56 167.0,311.24 168.0,312.71 169.0,314.00 170.0,315.12 171.0,316.09 172.0,316.92 173.0,317.64 174.0,318.27 175.0,318.81 176.0,319.27 177.0,319.68 178.0,320.04 179.0,320.35 180.0,320.63 181.0,320.88 182.0,321.11 183.0,321.31 184.0,321.50 185.0,321.67 186.0,321.83 187.0,321.98 188.0,322.11 189.0,322.24 190.0,322.36 191.0,322.48 192.0,322.58 193.0,322.68 194.0,322.78 195.0,322.87 196.0,322.96 197.0,323.04 198.0,323.12 199.0,323.19 200.0,323.27 201.0,323.33 202.0,323.40 203.0,323.46 204.0,323.52 205.0,323.58 206.0,323.64 207.0,323.69 208.0,323.74 209.0,323.79 210.0,323.84 211.0,323.89 212.0,323.94 213.0,323.98 214.0,324.02 215.0,324.06 216.0,324.10 217.0,324.14 218.0,324.18 219.0,324.22 220.0,324.25 221.0,324.29 222.0,324.32 223.0,324.35 224.0,324.39 225.0,324.42 226.0,324.45 227.0,324.48 228.0,324.51 229.0,324.54 230.0,324.56 231.0,324.59 232.0,324.62 233.0,324.64 234.0,324.67 235.0,324.69 236.0,324.72 237.0,324.74 238.0,324.77 239.0,324.79 240.0,324.81 241.0,324.83 242.0,324.85 243.0,324.87 244.0,324.89 245.0,324.91 246.0,324.93 247.0,324.95 248.0,324.97 249.0,324.99 250.0,325.01 251.0,325.02 252.0,325.04 253.0,325.06 254.0,325.07 255.0,325.09 256.0,325.11 257.0,325.12 258.0,325.14 259.0,325.15 260.0,325.16 261.0,325.18 262.0,325.19 263.0,325.20 264.0,325.22 265.0,325.23 266.0,325.24 267.0,325.25 268.0,325.26 269.0,325.27 270.0,325.28 271.0,325.29 272.0,325.30 273.0,325.31 274.0,325.32 275.0,325.33 276.0,325.34 277.0,325.35 278.0,325.35 279.0,325.36 280.0,325.37 281.0,325.38 282.0,325.38 283.0,325.39 284.0,325.39 285.0,325.40 286.0,325.40 287.0,325.41 288.0,325.41 289.0,325.42 290.0,325.42 291.0,325.42 292.0,325.42 293.0,325.43 294.0,325.43 295.0,325.43 296.0,325.43 297.0,325.43 298.0,325.43 299.0,325.43 300.0,325.43 301.0,325.43 302.0,325.43 303.0,325.43 304.0,325.42 305.0,325.42 306.0,325.42 307.0,325.41 308.0,325.41 309.0,325.40 310.0,325.40 311.0,325.39 312.0,325.38 313.0,325.37 314.0,325.37 315.0,325.36 316.0,325.35 317.0,325.34 318.0,325.33 319.0,325.31 320.0,325.30 321.0,325.29 322.0,325.27 323.0,325.26 324.0,325.24 325.0,325.23 326.0,325.21 327.0,325.19 328.0,325.17 329.0,325.15 330.0,325.12 331.0,325.10 332.0,325.08 333.0,325.05 334.0,325.02 335.0,324.99 336.0,324.96 337.0,324.93 338.0,324.90 339.0,324.86 340.0,324.82 341.0,324.78 342.0,324.74 343.0,324.70 344.0,324.65 345.0,324.61 346.0,324.55 347.0,324.50 348.0,324.45 349.0,324.39 350.0,324.32 351.0,324.26 352.0,324.19 353.0,324.12 354.0,324.04 355.0,323.96 356.0,323.87 357.0,323.78 358.0,323.68 359.0,323.58 360.0,323.48 361.0,323.36 362.0,323.24 363.0,323.12 364.0,322.98 365.0,322.84 366.0,322.69 367.0,322.53 368.0,322.37 369.0,322.19 370.0,322.00 371.0,321.80 372.0,321.59 373.0,321.36 374.0,321.12 375.0,320.87 376.0,320.60 377.0,320.32 378.0,320.02 379.0,319.71 380.0,319.37 381.0,319.03 382.0,318.66 383.0,318.28 384.0,317.88 385.0,317.46 386.0,317.03 387.0,316.59 388.0,316.14 389.0,315.69 390.0,315.23 391.0,314.77 392.0,314.32 393.0,313.89 394.0,313.48 395.0,313.10 396.0,312.75 397.0,312.45 398.0,312.20 399.0,312.01 400.0,311.88 401.0,311.82 402.0,311.83 403.0,311.90 404.0,312.04 405.0,312.24 406.0,312.50 407.0,312.81 408.0,313.17 409.0,313.55 410.0,313.97 411.0,314.41 412.0,314.86 413.0,315.33 414.0,315.79 415.0,316.25 416.0,316.70 417.0,317.15 418.0,317.58 419.0,318.00 420.0,318.40 421.0,318.78 422.0,319.15 423.0,319.50 424.0,319.84 425.0,320.15 426.0,320.46 427.0,320.74 428.0,321.01 429.0,321.27 430.0,321.51 431.0,321.74 432.0,321.95 433.0,322.16 434.0,322.35 435.0,322.53 436.0,322.70 437.0,322.87 438.0,323.02 439.0,323.16 440.0,323.30 441.0,323.43 442.0,323.56 443.0,323.67 444.0,323.79 445.0,323.89 446.0,323.99 447.0,324.09 448.0,324.18 449.0,324.26 450.0,324.34 451.0,324.42 452.0,324.50 453.0,324.57 454.0,324.64 455.0,324.70 456.0,324.76 457.0,324.82 458.0,324.88 459.0,324.93 460.0,324.98 461.0,325.03 462.0,325.08 463.0,325.12 464.0,325.17 465.0,325.21 466.0,325.25 467.0,325.29 468.0,325.32 469.0,325.36 470.0,325.39 471.0,325.42 472.0,325.46 473.0,325.49 474.0,325.52 475.0,325.54 476.0,325.57 477.0,325.60 478.0,325.62 479.0,325.65 480.0,325.67 481.0,325.69 482.0,325.71 483.0,325.73 484.0,325.75 485.0,325.77 486.0,325.79 487.0,325.81 488.0,325.83" fill="none" stroke="#8b0a0a" stroke-width="2.7" stroke-linejoin="round"/>
<polyline points="57.0,380.37 58.0,380.32 59.0,380.27 60.0,380.22 61.0,380.17 62.0,380.11 63.0,380.05 64.0,379.99 65.0,379.93 66.0,379.87 67.0,379.80 68.0,379.74 69.0,379.67 70.0,379.60 71.0,379.52 72.0,379.45 73.0,379.37 74.0,379.29 75.0,379.20 76.0,379.11 77.0,379.02 78.0,378.93 79.0,378.83 80.0,378.73 81.0,378.63 82.0,378.52 83.0,378.41 84.0,378.29 85.0,378.17 86.0,378.04 87.0,377.91 88.0,377.77 89.0,377.63 90.0,377.48 91.0,377.33 92.0,377.17 93.0,377.00 94.0,376.83 95.0,376.64 96.0,376.45 97.0,376.25 98.0,376.04 99.0,375.82 100.0,375.59 101.0,375.35 102.0,375.10 103.0,374.83 104.0,374.55 105.0,374.25 106.0,373.94 107.0,373.60 108.0,373.25 109.0,372.88 110.0,372.48 111.0,372.06 112.0,371.61 113.0,371.13 114.0,370.62 115.0,370.08 116.0,369.50 117.0,368.88 118.0,368.22 119.0,367.52 120.0,366.77 121.0,365.97 122.0,365.12 123.0,364.22 124.0,363.26 125.0,362.25 126.0,361.19 127.0,360.07 128.0,358.90 129.0,357.68 130.0,356.41 131.0,355.10 132.0,353.76 133.0,352.39 134.0,351.00 135.0,349.60 136.0,348.21 137.0,346.83 138.0,345.48 139.0,344.18 140.0,342.95 141.0,341.79 142.0,340.75 143.0,339.82 144.0,339.03 145.0,338.39 146.0,337.92 147.0,337.63 148.0,337.52 149.0,337.69 150.0,338.23 151.0,339.10 152.0,340.24 153.0,341.61 154.0,343.14 155.0,344.78 156.0,346.48 157.0,348.19 158.0,349.89 159.0,351.54 160.0,353.12 161.0,354.63 162.0,356.05 163.0,357.39 164.0,358.63 165.0,359.78 166.0,360.86 167.0,361.85 168.0,362.78 169.0,363.65 170.0,364.47 171.0,365.23 172.0,365.95 173.0,366.63 174.0,367.27 175.0,367.89 176.0,368.46 177.0,369.02 178.0,369.54 179.0,370.04 180.0,370.51 181.0,370.96 182.0,371.40 183.0,371.81 184.0,372.20 185.0,372.57 186.0,372.92 187.0,373.26 188.0,373.58 189.0,373.89 190.0,374.18 191.0,374.46 192.0,374.73 193.0,374.98 194.0,375.22 195.0,375.45 196.0,375.68 197.0,375.89 198.0,376.09 199.0,376.28 200.0,376.47 201.0,376.64 202.0,376.81 203.0,376.97 204.0,377.13 205.0,377.28 206.0,377.42 207.0,377.56 208.0,377.69 209.0,377.81 210.0,377.94 211.0,378.05 212.0,378.16 213.0,378.27 214.0,378.37 215.0,378.47 216.0,378.57 217.0,378.66 218.0,378.75 219.0,378.83 220.0,378.92 221.0,378.99 222.0,379.07 223.0,379.14 224.0,379.22 225.0,379.28 226.0,379.35 227.0,379.41 228.0,379.48 229.0,379.54 230.0,379.59 231.0,379.65 232.0,379.70 233.0,379.75 234.0,379.80 235.0,379.85 236.0,379.90 237.0,379.95 238.0,379.99 239.0,380.03 240.0,380.07 241.0,380.11 242.0,380.15 243.0,380.19 244.0,380.23 245.0,380.26 246.0,380.30 247.0,380.33 248.0,380.36 249.0,380.40 250.0,380.43 251.0,380.46 252.0,380.48 253.0,380.51 254.0,380.54 255.0,380.57 256.0,380.59 257.0,380.62 258.0,380.64 259.0,380.66 260.0,380.69 261.0,380.71 262.0,380.73 263.0,380.75 264.0,380.77 265.0,380.79 266.0,380.81 267.0,380.83 268.0,380.85 269.0,380.87 270.0,380.88 271.0,380.90 272.0,380.92 273.0,380.93 274.0,380.95 275.0,380.96 276.0,380.98 277.0,380.99 278.0,381.01 279.0,381.02 280.0,381.03 281.0,381.05 282.0,381.06 283.0,381.07 284.0,381.08 285.0,381.10 286.0,381.11 287.0,381.12 288.0,381.13 289.0,381.14 290.0,381.15 291.0,381.16 292.0,381.17 293.0,381.18 294.0,381.19 295.0,381.20 296.0,381.21 297.0,381.21 298.0,381.22 299.0,381.23 300.0,381.24 301.0,381.25 302.0,381.25 303.0,381.26 304.0,381.27 305.0,381.27 306.0,381.28 307.0,381.29 308.0,381.29 309.0,381.30 310.0,381.31 311.0,381.31 312.0,381.32 313.0,381.32 314.0,381.33 315.0,381.33 316.0,381.34 317.0,381.34 318.0,381.35 319.0,381.35 320.0,381.35 321.0,381.36 322.0,381.36 323.0,381.37 324.0,381.37 325.0,381.37 326.0,381.38 327.0,381.38 328.0,381.38 329.0,381.38 330.0,381.39 331.0,381.39 332.0,381.39 333.0,381.39 334.0,381.39 335.0,381.40 336.0,381.40 337.0,381.40 338.0,381.40 339.0,381.40 340.0,381.40 341.0,381.40 342.0,381.40 343.0,381.40 344.0,381.40 345.0,381.40 346.0,381.40 347.0,381.40 348.0,381.40 349.0,381.40 350.0,381.40 351.0,381.39 352.0,381.39 353.0,381.39 354.0,381.38 355.0,381.38 356.0,381.38 357.0,381.37 358.0,381.37 359.0,381.36 360.0,381.35 361.0,381.35 362.0,381.34 363.0,381.33 364.0,381.32 365.0,381.30 366.0,381.29 367.0,381.28 368.0,381.26 369.0,381.24 370.0,381.22 371.0,381.20 372.0,381.17 373.0,381.14 374.0,381.11 375.0,381.07 376.0,381.02 377.0,380.97 378.0,380.91 379.0,380.84 380.0,380.75 381.0,380.66 382.0,380.54 383.0,380.40 384.0,380.23 385.0,380.02 386.0,379.77 387.0,379.46 388.0,379.07 389.0,378.61 390.0,378.05 391.0,377.40 392.0,376.70 393.0,376.05 394.0,375.56 395.0,375.38 396.0,375.57 397.0,376.06 398.0,376.72 399.0,377.42 400.0,378.06 401.0,378.62 402.0,379.09 403.0,379.47 404.0,379.78 405.0,380.03 406.0,380.24 407.0,380.41 408.0,380.55 409.0,380.66 410.0,380.76 411.0,380.85 412.0,380.92 413.0,380.98 414.0,381.03 415.0,381.08 416.0,381.12 417.0,381.15 418.0,381.18 419.0,381.21 420.0,381.23 421.0,381.25 422.0,381.27 423.0,381.29 424.0,381.31 425.0,381.32 426.0,381.33 427.0,381.34 428.0,381.36 429.0,381.36 430.0,381.37 431.0,381.38 432.0,381.39 433.0,381.40 434.0,381.40 435.0,381.41 436.0,381.41 437.0,381.42 438.0,381.42 439.0,381.42 440.0,381.43 441.0,381.43 442.0,381.43 443.0,381.44 444.0,381.44 445.0,381.44 446.0,381.44 447.0,381.45 448.0,381.45 449.0,381.45 450.0,381.45 451.0,381.45 452.0,381.45 453.0,381.46 454.0,381.46 455.0,381.46 456.0,381.46 457.0,381.46 458.0,381.46 459.0,381.46 460.0,381.46 461.0,381.46 462.0,381.46 463.0,381.46 464.0,381.46 465.0,381.46 466.0,381.46 467.0,381.46 468.0,381.46 469.0,381.46 470.0,381.46 471.0,381.46 472.0,381.46 473.0,381.46 474.0,381.46 475.0,381.46 476.0,381.46 477.0,381.46 478.0,381.46 479.0,381.46 480.0,381.46 481.0,381.46 482.0,381.45 483.0,381.45 484.0,381.45 485.0,381.45 486.0,381.45 487.0,381.45 488.0,381.45" fill="none" stroke="#8b0a0a" stroke-width="2.7" stroke-linejoin="round"/>
</g>
<line x1="148.0" y1="12.5" x2="148.0" y2="406.6" stroke="#000" stroke-width="1.8" stroke-dasharray="3.7,3.8" stroke-dashoffset="-0.8"/>
<line x1="394.8" y1="12.5" x2="394.8" y2="406.6" stroke="#000" stroke-width="1.8" stroke-dasharray="3.7,3.8" stroke-dashoffset="-0.8"/>
<rect x="56.2" y="11.3" width="484.00000000000006" height="396.5" fill="none" stroke="#000" stroke-width="2.7"/>
<line x1="92.0" y1="407.8" x2="92.0" y2="415.7" stroke="#000" stroke-width="2.2"/>
<line x1="271.2" y1="407.8" x2="271.2" y2="415.7" stroke="#000" stroke-width="2.2"/>
<line x1="450.5" y1="407.8" x2="450.5" y2="415.7" stroke="#000" stroke-width="2.2"/>
<text x="92.0" y="432.7" font-family="Liberation Sans, Arial, sans-serif" font-weight="bold" stroke-width="0.3" stroke-linejoin="round" font-size="16.3" text-anchor="middle">600</text>
<text x="271.2" y="432.7" font-family="Liberation Sans, Arial, sans-serif" font-weight="bold" stroke-width="0.3" stroke-linejoin="round" font-size="16.3" text-anchor="middle">700</text>
<text x="450.5" y="432.7" font-family="Liberation Sans, Arial, sans-serif" font-weight="bold" stroke-width="0.3" stroke-linejoin="round" font-size="16.3" text-anchor="middle">800</text>
<text transform="translate(166.5,463.5) scale(1,1.05)" font-family="Liberation Sans, Arial, sans-serif" font-weight="bold" stroke-width="0.3" stroke-linejoin="round" font-size="27">Raman Shift (cm<tspan dx="1.5" dy="-12.5" font-size="15">-1</tspan><tspan dx="0.5" dy="12.5">)</tspan></text>
<text transform="translate(30.8,318.8) rotate(-90)" font-family="Liberation Sans, Arial, sans-serif" font-weight="bold" stroke-width="0.3" stroke-linejoin="round" font-size="27">Intensity (a.u.)</text>
<text transform="translate(115.0,97.8) rotate(-90)" font-family="Liberation Sans, Arial, sans-serif" font-weight="bold" stroke-width="0.3" stroke-linejoin="round" font-size="12.5">A</text><text transform="translate(119.6,88.2) rotate(-90)" font-family="Liberation Sans, Arial, sans-serif" font-weight="bold" stroke-width="0.3" stroke-linejoin="round" font-size="10.5">1g</text><text transform="translate(115.0,66.6) rotate(-90)" font-family="Liberation Sans, Arial, sans-serif" font-weight="bold" stroke-width="0.3" stroke-linejoin="round" font-size="12.5">634 cm</text><text transform="translate(108.0,22.0) rotate(-90)" font-family="Liberation Sans, Arial, sans-serif" font-weight="bold" stroke-width="0.3" stroke-linejoin="round" font-size="10">-1</text>
<text transform="translate(431.7,97.8) rotate(-90)" font-family="Liberation Sans, Arial, sans-serif" font-weight="bold" stroke-width="0.3" stroke-linejoin="round" font-size="12.5">B</text><text transform="translate(436.29999999999995,88.2) rotate(-90)" font-family="Liberation Sans, Arial, sans-serif" font-weight="bold" stroke-width="0.3" stroke-linejoin="round" font-size="10.5">2g</text><text transform="translate(431.7,66.6) rotate(-90)" font-family="Liberation Sans, Arial, sans-serif" font-weight="bold" stroke-width="0.3" stroke-linejoin="round" font-size="12.5">774 cm</text><text transform="translate(424.7,22.0) rotate(-90)" font-family="Liberation Sans, Arial, sans-serif" font-weight="bold" stroke-width="0.3" stroke-linejoin="round" font-size="10">-1</text>
<text x="160.4" y="30.2" font-family="Liberation Sans, Arial, sans-serif" font-weight="bold" stroke-width="0.3" stroke-linejoin="round" font-size="16.0">I</text><text x="165.0" y="36.8" font-family="Liberation Sans, Arial, sans-serif" font-weight="bold" stroke-width="0.3" stroke-linejoin="round" font-size="9.2">A-1g</text><text x="185.4" y="30.2" font-family="Liberation Sans, Arial, sans-serif" font-weight="bold" stroke-width="0.3" stroke-linejoin="round" font-size="16.0">=</text><text x="199.1" y="30.2" font-family="Liberation Sans, Arial, sans-serif" font-weight="bold" stroke-width="0.3" stroke-linejoin="round" font-size="16.0">36,030</text>
<text x="169.0" y="93.5" font-family="Liberation Sans, Arial, sans-serif" font-weight="bold" stroke-width="0.3" stroke-linejoin="round" font-size="16.0">I</text><text x="173.6" y="100.1" font-family="Liberation Sans, Arial, sans-serif" font-weight="bold" stroke-width="0.3" stroke-linejoin="round" font-size="9.2">A-1g</text><text x="194.0" y="93.5" font-family="Liberation Sans, Arial, sans-serif" font-weight="bold" stroke-width="0.3" stroke-linejoin="round" font-size="16.0">=</text><text x="207.7" y="93.5" font-family="Liberation Sans, Arial, sans-serif" font-weight="bold" stroke-width="0.3" stroke-linejoin="round" font-size="16.0">19,297</text>
<text x="162.7" y="144.5" font-family="Liberation Sans, Arial, sans-serif" font-weight="bold" stroke-width="0.3" stroke-linejoin="round" font-size="16.0">I</text><text x="167.3" y="151.1" font-family="Liberation Sans, Arial, sans-serif" font-weight="bold" stroke-width="0.3" stroke-linejoin="round" font-size="9.2">A-1g</text><text x="187.7" y="144.5" font-family="Liberation Sans, Arial, sans-serif" font-weight="bold" stroke-width="0.3" stroke-linejoin="round" font-size="16.0">=</text><text x="201.4" y="144.5" font-family="Liberation Sans, Arial, sans-serif" font-weight="bold" stroke-width="0.3" stroke-linejoin="round" font-size="16.0">23,924</text>
<text x="162.7" y="209.1" font-family="Liberation Sans, Arial, sans-serif" font-weight="bold" stroke-width="0.3" stroke-linejoin="round" font-size="16.0">I</text><text x="167.3" y="215.7" font-family="Liberation Sans, Arial, sans-serif" font-weight="bold" stroke-width="0.3" stroke-linejoin="round" font-size="9.2">A-1g</text><text x="187.7" y="209.1" font-family="Liberation Sans, Arial, sans-serif" font-weight="bold" stroke-width="0.3" stroke-linejoin="round" font-size="16.0">=</text><text x="201.4" y="209.1" font-family="Liberation Sans, Arial, sans-serif" font-weight="bold" stroke-width="0.3" stroke-linejoin="round" font-size="16.0">11,630</text>
<text x="159.5" y="273.0" font-family="Liberation Sans, Arial, sans-serif" font-weight="bold" stroke-width="0.3" stroke-linejoin="round" font-size="16.0">I</text><text x="164.1" y="279.6" font-family="Liberation Sans, Arial, sans-serif" font-weight="bold" stroke-width="0.3" stroke-linejoin="round" font-size="9.2">A-1g</text><text x="184.5" y="273.0" font-family="Liberation Sans, Arial, sans-serif" font-weight="bold" stroke-width="0.3" stroke-linejoin="round" font-size="16.0">=</text><text x="198.2" y="273.0" font-family="Liberation Sans, Arial, sans-serif" font-weight="bold" stroke-width="0.3" stroke-linejoin="round" font-size="16.0">18,847</text>
<text x="161.6" y="345.0" font-family="Liberation Sans, Arial, sans-serif" font-weight="bold" stroke-width="0.3" stroke-linejoin="round" font-size="16.0">I</text><text x="166.2" y="351.6" font-family="Liberation Sans, Arial, sans-serif" font-weight="bold" stroke-width="0.3" stroke-linejoin="round" font-size="9.2">A-1g</text><text x="186.6" y="345.0" font-family="Liberation Sans, Arial, sans-serif" font-weight="bold" stroke-width="0.3" stroke-linejoin="round" font-size="16.0">=</text><text x="200.3" y="345.0" font-family="Liberation Sans, Arial, sans-serif" font-weight="bold" stroke-width="0.3" stroke-linejoin="round" font-size="16.0">12,521</text>
<text x="313.5" y="57.7" font-family="Liberation Sans, Arial, sans-serif" font-weight="bold" stroke-width="0.3" stroke-linejoin="round" font-size="16.0">I</text><text x="318.6" y="64.3" font-family="Liberation Sans, Arial, sans-serif" font-weight="bold" stroke-width="0.3" stroke-linejoin="round" font-size="9.2">B-2g</text><text x="339.2" y="57.7" font-family="Liberation Sans, Arial, sans-serif" font-weight="bold" stroke-width="0.3" stroke-linejoin="round" font-size="16.0">=</text><text x="353.2" y="57.7" font-family="Liberation Sans, Arial, sans-serif" font-weight="bold" stroke-width="0.3" stroke-linejoin="round" font-size="16.0">8060</text>
<text x="313.5" y="103.0" font-family="Liberation Sans, Arial, sans-serif" font-weight="bold" stroke-width="0.3" stroke-linejoin="round" font-size="16.0">I</text><text x="318.6" y="109.6" font-family="Liberation Sans, Arial, sans-serif" font-weight="bold" stroke-width="0.3" stroke-linejoin="round" font-size="9.2">B-2g</text><text x="339.2" y="103.0" font-family="Liberation Sans, Arial, sans-serif" font-weight="bold" stroke-width="0.3" stroke-linejoin="round" font-size="16.0">=</text><text x="353.2" y="103.0" font-family="Liberation Sans, Arial, sans-serif" font-weight="bold" stroke-width="0.3" stroke-linejoin="round" font-size="16.0">3288</text>
<text x="312.2" y="165.5" font-family="Liberation Sans, Arial, sans-serif" font-weight="bold" stroke-width="0.3" stroke-linejoin="round" font-size="16.0">I</text><text x="317.3" y="172.1" font-family="Liberation Sans, Arial, sans-serif" font-weight="bold" stroke-width="0.3" stroke-linejoin="round" font-size="9.2">B-2g</text><text x="337.9" y="165.5" font-family="Liberation Sans, Arial, sans-serif" font-weight="bold" stroke-width="0.3" stroke-linejoin="round" font-size="16.0">=</text><text x="351.9" y="165.5" font-family="Liberation Sans, Arial, sans-serif" font-weight="bold" stroke-width="0.3" stroke-linejoin="round" font-size="16.0">4715</text>
<text x="314.0" y="233.6" font-family="Liberation Sans, Arial, sans-serif" font-weight="bold" stroke-width="0.3" stroke-linejoin="round" font-size="16.0">I</text><text x="319.1" y="240.2" font-family="Liberation Sans, Arial, sans-serif" font-weight="bold" stroke-width="0.3" stroke-linejoin="round" font-size="9.2">B-2g</text><text x="339.7" y="233.6" font-family="Liberation Sans, Arial, sans-serif" font-weight="bold" stroke-width="0.3" stroke-linejoin="round" font-size="16.0">=</text><text x="353.7" y="233.6" font-family="Liberation Sans, Arial, sans-serif" font-weight="bold" stroke-width="0.3" stroke-linejoin="round" font-size="16.0">2342</text>
<text x="315.3" y="304.5" font-family="Liberation Sans, Arial, sans-serif" font-weight="bold" stroke-width="0.3" stroke-linejoin="round" font-size="16.0">I</text><text x="320.4" y="311.1" font-family="Liberation Sans, Arial, sans-serif" font-weight="bold" stroke-width="0.3" stroke-linejoin="round" font-size="9.2">B-2g</text><text x="341.0" y="304.5" font-family="Liberation Sans, Arial, sans-serif" font-weight="bold" stroke-width="0.3" stroke-linejoin="round" font-size="16.0">=</text><text x="355.0" y="304.5" font-family="Liberation Sans, Arial, sans-serif" font-weight="bold" stroke-width="0.3" stroke-linejoin="round" font-size="16.0">4233</text>
<text x="315.3" y="363.6" font-family="Liberation Sans, Arial, sans-serif" font-weight="bold" stroke-width="0.3" stroke-linejoin="round" font-size="16.0">I</text><text x="320.4" y="370.2" font-family="Liberation Sans, Arial, sans-serif" font-weight="bold" stroke-width="0.3" stroke-linejoin="round" font-size="9.2">B-2g</text><text x="341.0" y="363.6" font-family="Liberation Sans, Arial, sans-serif" font-weight="bold" stroke-width="0.3" stroke-linejoin="round" font-size="16.0">=</text><text x="355.0" y="363.6" font-family="Liberation Sans, Arial, sans-serif" font-weight="bold" stroke-width="0.3" stroke-linejoin="round" font-size="16.0">1798</text>
<text class="s" x="438.2" y="51.2" font-family="Liberation Sans, Arial, sans-serif" font-weight="bold" stroke-width="0.3" stroke-linejoin="round" font-size="12.4">Sn<tspan dy="7.7">0.90</tspan><tspan dy="-7.7">Mg</tspan><tspan dy="7.7">0.10</tspan><tspan dy="-7.7">O</tspan><tspan dy="7.7">2</tspan></text>
<text class="s" x="438.2" y="101.2" font-family="Liberation Sans, Arial, sans-serif" font-weight="bold" stroke-width="0.3" stroke-linejoin="round" font-size="12.4">Sn<tspan dy="7.7">0.92</tspan><tspan dy="-7.7">Mg</tspan><tspan dy="7.7">0.08</tspan><tspan dy="-7.7">O</tspan><tspan dy="7.7">2</tspan></text>
<text class="s" x="438.2" y="163.1" font-family="Liberation Sans, Arial, sans-serif" font-weight="bold" stroke-width="0.3" stroke-linejoin="round" font-size="12.4">Sn<tspan dy="7.7">0.94</tspan><tspan dy="-7.7">Mg</tspan><tspan dy="7.7">0.06</tspan><tspan dy="-7.7">O</tspan><tspan dy="7.7">2</tspan></text>
<text class="s" x="438.2" y="236.0" font-family="Liberation Sans, Arial, sans-serif" font-weight="bold" stroke-width="0.3" stroke-linejoin="round" font-size="12.4">Sn<tspan dy="7.7">0.96</tspan><tspan dy="-7.7">Mg</tspan><tspan dy="7.7">0.04</tspan><tspan dy="-7.7">O</tspan><tspan dy="7.7">2</tspan></text>
<text class="s" x="438.2" y="302.5" font-family="Liberation Sans, Arial, sans-serif" font-weight="bold" stroke-width="0.3" stroke-linejoin="round" font-size="12.4">Sn<tspan dy="7.7">0.98</tspan><tspan dy="-7.7">Mg</tspan><tspan dy="7.7">0.02</tspan><tspan dy="-7.7">O</tspan><tspan dy="7.7">2</tspan></text>
<text class="s" x="438.0" y="367" font-family="Liberation Sans, Arial, sans-serif" font-weight="bold" stroke-width="0.3" stroke-linejoin="round" font-size="12.4">SnO<tspan dy="6.5">2</tspan></text>
</svg></body></html>
